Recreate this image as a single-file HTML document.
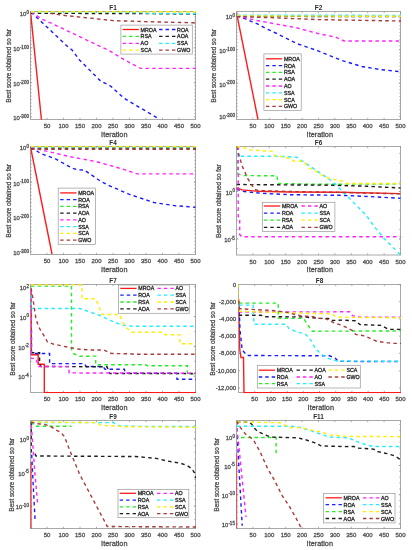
<!DOCTYPE html>
<html><head><meta charset="utf-8"><style>
html,body{margin:0;padding:0;background:#fff;width:412px;height:550px;overflow:hidden}
svg{display:block;will-change:transform}
text{font-family:"Liberation Sans",sans-serif}
</style></head><body>
<svg width="412" height="550" viewBox="0 0 412 550">
<clipPath id="cF1"><rect x="30.5" y="10.5" width="166.0" height="109.8"/></clipPath>
<rect x="30.5" y="11.5" width="165.0" height="108.0" fill="none" stroke="#a8a8a8" stroke-width="1.0"/>
<path d="M47.00,119.5v-1.7M47.00,11.5v1.7" stroke="#8c8c8c" stroke-width="0.7"/>
<text x="47.0" y="126.0" font-size="6.0" text-anchor="middle" font-weight="normal" fill="#505050" stroke="#505050" stroke-width="0.3" dominant-baseline="central">50</text>
<path d="M63.50,119.5v-1.7M63.50,11.5v1.7" stroke="#8c8c8c" stroke-width="0.7"/>
<text x="63.5" y="126.0" font-size="6.0" text-anchor="middle" font-weight="normal" fill="#505050" stroke="#505050" stroke-width="0.3" dominant-baseline="central">100</text>
<path d="M80.00,119.5v-1.7M80.00,11.5v1.7" stroke="#8c8c8c" stroke-width="0.7"/>
<text x="80.0" y="126.0" font-size="6.0" text-anchor="middle" font-weight="normal" fill="#505050" stroke="#505050" stroke-width="0.3" dominant-baseline="central">150</text>
<path d="M96.50,119.5v-1.7M96.50,11.5v1.7" stroke="#8c8c8c" stroke-width="0.7"/>
<text x="96.5" y="126.0" font-size="6.0" text-anchor="middle" font-weight="normal" fill="#505050" stroke="#505050" stroke-width="0.3" dominant-baseline="central">200</text>
<path d="M113.00,119.5v-1.7M113.00,11.5v1.7" stroke="#8c8c8c" stroke-width="0.7"/>
<text x="113.0" y="126.0" font-size="6.0" text-anchor="middle" font-weight="normal" fill="#505050" stroke="#505050" stroke-width="0.3" dominant-baseline="central">250</text>
<path d="M129.50,119.5v-1.7M129.50,11.5v1.7" stroke="#8c8c8c" stroke-width="0.7"/>
<text x="129.5" y="126.0" font-size="6.0" text-anchor="middle" font-weight="normal" fill="#505050" stroke="#505050" stroke-width="0.3" dominant-baseline="central">300</text>
<path d="M146.00,119.5v-1.7M146.00,11.5v1.7" stroke="#8c8c8c" stroke-width="0.7"/>
<text x="146.0" y="126.0" font-size="6.0" text-anchor="middle" font-weight="normal" fill="#505050" stroke="#505050" stroke-width="0.3" dominant-baseline="central">350</text>
<path d="M162.50,119.5v-1.7M162.50,11.5v1.7" stroke="#8c8c8c" stroke-width="0.7"/>
<text x="162.5" y="126.0" font-size="6.0" text-anchor="middle" font-weight="normal" fill="#505050" stroke="#505050" stroke-width="0.3" dominant-baseline="central">400</text>
<path d="M179.00,119.5v-1.7M179.00,11.5v1.7" stroke="#8c8c8c" stroke-width="0.7"/>
<text x="179.0" y="126.0" font-size="6.0" text-anchor="middle" font-weight="normal" fill="#505050" stroke="#505050" stroke-width="0.3" dominant-baseline="central">450</text>
<path d="M195.50,119.5v-1.7M195.50,11.5v1.7" stroke="#8c8c8c" stroke-width="0.7"/>
<text x="195.5" y="126.0" font-size="6.0" text-anchor="middle" font-weight="normal" fill="#505050" stroke="#505050" stroke-width="0.3" dominant-baseline="central">500</text>
<text x="113.0" y="7.0" font-size="6.4" text-anchor="middle" font-weight="bold" fill="#2a2a2a" stroke="#2a2a2a" stroke-width="0" dominant-baseline="central">F1</text>
<text x="114.3" y="134.1" font-size="7.3" text-anchor="middle" font-weight="normal" fill="#505050" stroke="#505050" stroke-width="0.3" dominant-baseline="central">Iteration</text>
<text x="0" y="0" font-size="6.3" text-anchor="middle" fill="#505050" stroke="#505050" stroke-width="0.3" dominant-baseline="central" transform="translate(8.6,65.8) rotate(-90)">Best score obtained so far</text>
<path d="M30.5,13.3h1.7M195.5,13.3h-1.7" stroke="#8c8c8c" stroke-width="0.7"/>
<text x="26.2" y="14.4" font-size="5.9" text-anchor="end" font-weight="normal" fill="#505050" stroke="#505050" stroke-width="0.3" dominant-baseline="central">10</text>
<text x="28.9" y="12.5" font-size="4.5" text-anchor="end" font-weight="normal" fill="#505050" stroke="#505050" stroke-width="0.3" dominant-baseline="central">0</text>
<path d="M30.5,47.8h1.7M195.5,47.8h-1.7" stroke="#8c8c8c" stroke-width="0.7"/>
<text x="19.7" y="48.9" font-size="5.9" text-anchor="end" font-weight="normal" fill="#505050" stroke="#505050" stroke-width="0.3" dominant-baseline="central">10</text>
<text x="28.9" y="47.0" font-size="4.5" text-anchor="end" font-weight="normal" fill="#505050" stroke="#505050" stroke-width="0.3" dominant-baseline="central">-100</text>
<path d="M30.5,82.8h1.7M195.5,82.8h-1.7" stroke="#8c8c8c" stroke-width="0.7"/>
<text x="19.7" y="83.9" font-size="5.9" text-anchor="end" font-weight="normal" fill="#505050" stroke="#505050" stroke-width="0.3" dominant-baseline="central">10</text>
<text x="28.9" y="82.0" font-size="4.5" text-anchor="end" font-weight="normal" fill="#505050" stroke="#505050" stroke-width="0.3" dominant-baseline="central">-200</text>
<path d="M30.5,116.8h1.7M195.5,116.8h-1.7" stroke="#8c8c8c" stroke-width="0.7"/>
<text x="19.7" y="117.9" font-size="5.9" text-anchor="end" font-weight="normal" fill="#505050" stroke="#505050" stroke-width="0.3" dominant-baseline="central">10</text>
<text x="28.9" y="116.0" font-size="4.5" text-anchor="end" font-weight="normal" fill="#505050" stroke="#505050" stroke-width="0.3" dominant-baseline="central">-300</text>
<path d="M30.5,16.75h1.2M195.5,16.75h-1.2" stroke="#8c8c8c" stroke-width="0.7"/>
<path d="M30.5,20.20h1.2M195.5,20.20h-1.2" stroke="#8c8c8c" stroke-width="0.7"/>
<path d="M30.5,23.65h1.2M195.5,23.65h-1.2" stroke="#8c8c8c" stroke-width="0.7"/>
<path d="M30.5,27.10h1.2M195.5,27.10h-1.2" stroke="#8c8c8c" stroke-width="0.7"/>
<path d="M30.5,30.55h1.2M195.5,30.55h-1.2" stroke="#8c8c8c" stroke-width="0.7"/>
<path d="M30.5,34.00h1.2M195.5,34.00h-1.2" stroke="#8c8c8c" stroke-width="0.7"/>
<path d="M30.5,37.45h1.2M195.5,37.45h-1.2" stroke="#8c8c8c" stroke-width="0.7"/>
<path d="M30.5,40.90h1.2M195.5,40.90h-1.2" stroke="#8c8c8c" stroke-width="0.7"/>
<path d="M30.5,44.35h1.2M195.5,44.35h-1.2" stroke="#8c8c8c" stroke-width="0.7"/>
<path d="M30.5,47.80h1.2M195.5,47.80h-1.2" stroke="#8c8c8c" stroke-width="0.7"/>
<path d="M30.5,51.25h1.2M195.5,51.25h-1.2" stroke="#8c8c8c" stroke-width="0.7"/>
<path d="M30.5,54.70h1.2M195.5,54.70h-1.2" stroke="#8c8c8c" stroke-width="0.7"/>
<path d="M30.5,58.15h1.2M195.5,58.15h-1.2" stroke="#8c8c8c" stroke-width="0.7"/>
<path d="M30.5,61.60h1.2M195.5,61.60h-1.2" stroke="#8c8c8c" stroke-width="0.7"/>
<path d="M30.5,65.05h1.2M195.5,65.05h-1.2" stroke="#8c8c8c" stroke-width="0.7"/>
<path d="M30.5,68.50h1.2M195.5,68.50h-1.2" stroke="#8c8c8c" stroke-width="0.7"/>
<path d="M30.5,71.95h1.2M195.5,71.95h-1.2" stroke="#8c8c8c" stroke-width="0.7"/>
<path d="M30.5,75.40h1.2M195.5,75.40h-1.2" stroke="#8c8c8c" stroke-width="0.7"/>
<path d="M30.5,78.85h1.2M195.5,78.85h-1.2" stroke="#8c8c8c" stroke-width="0.7"/>
<path d="M30.5,82.30h1.2M195.5,82.30h-1.2" stroke="#8c8c8c" stroke-width="0.7"/>
<path d="M30.5,85.75h1.2M195.5,85.75h-1.2" stroke="#8c8c8c" stroke-width="0.7"/>
<path d="M30.5,89.20h1.2M195.5,89.20h-1.2" stroke="#8c8c8c" stroke-width="0.7"/>
<path d="M30.5,92.65h1.2M195.5,92.65h-1.2" stroke="#8c8c8c" stroke-width="0.7"/>
<path d="M30.5,96.10h1.2M195.5,96.10h-1.2" stroke="#8c8c8c" stroke-width="0.7"/>
<path d="M30.5,99.55h1.2M195.5,99.55h-1.2" stroke="#8c8c8c" stroke-width="0.7"/>
<path d="M30.5,103.00h1.2M195.5,103.00h-1.2" stroke="#8c8c8c" stroke-width="0.7"/>
<path d="M30.5,106.45h1.2M195.5,106.45h-1.2" stroke="#8c8c8c" stroke-width="0.7"/>
<path d="M30.5,109.90h1.2M195.5,109.90h-1.2" stroke="#8c8c8c" stroke-width="0.7"/>
<path d="M30.5,113.35h1.2M195.5,113.35h-1.2" stroke="#8c8c8c" stroke-width="0.7"/>
<g clip-path="url(#cF1)">
<path d="M30.5,11.5 L41.4,119.5" fill="none" stroke="#ff1a1a" stroke-width="1.4"/>
<path d="M31.0,12.0 L67.0,46.0 L72.3,50.3 L79.5,60.0 L100.2,80.6 L111.0,86.4 L123.7,98.0 L134.2,104.3 L157.5,118.0 L159.0,119.5" fill="none" stroke="#1a1aff" stroke-width="1.4" stroke-dasharray="3.5 3.25"/>
<path d="M31.0,11.6 L196.0,11.6" fill="none" stroke="#22ee22" stroke-width="1.4" stroke-dasharray="3.5 3.25"/>
<path d="M31.0,13.3 L150.0,13.6 L196.0,14.2" fill="none" stroke="#1c1c1c" stroke-width="1.4" stroke-dasharray="3.5 3.25"/>
<path d="M31.0,12.0 L41.7,19.0 L53.7,24.3 L110.5,51.3 L124.7,60.0 L140.6,68.4 L196.0,68.4" fill="none" stroke="#ff22ff" stroke-width="1.4" stroke-dasharray="3.5 3.25"/>
<path d="M31.0,12.0 L140.0,12.5 L150.0,13.5 L196.0,13.8" fill="none" stroke="#22eeff" stroke-width="1.4" stroke-dasharray="3.5 3.25"/>
<path d="M31.0,11.8 L196.0,11.8" fill="none" stroke="#ffee00" stroke-width="1.4" stroke-dasharray="3.5 3.25"/>
<path d="M50.0,13.4 L65.0,15.5 L113.0,20.6 L150.0,21.8 L196.0,22.8" fill="none" stroke="#a83a3a" stroke-width="1.4" stroke-dasharray="3.5 3.25"/>
</g>
<rect x="120.9" y="25.1" width="71.4" height="29.0" fill="#fff" stroke="#999" stroke-width="0.7"/>
<path d="M122.6,29.5h16.3" stroke="#ff1a1a" stroke-width="1.3"/>
<text x="140.6" y="29.5" font-size="5.3" text-anchor="start" font-weight="normal" fill="#2a2a2a" stroke="#2a2a2a" stroke-width="0.3" dominant-baseline="central">MROA</text>
<path d="M159.1,29.5h16.3" stroke="#1a1aff" stroke-width="1.3" stroke-dasharray="3.4 3.05"/>
<text x="177.1" y="29.5" font-size="5.3" text-anchor="start" font-weight="normal" fill="#2a2a2a" stroke="#2a2a2a" stroke-width="0.3" dominant-baseline="central">ROA</text>
<path d="M122.6,36.3h16.3" stroke="#22ee22" stroke-width="1.3" stroke-dasharray="3.4 3.05"/>
<text x="140.6" y="36.3" font-size="5.3" text-anchor="start" font-weight="normal" fill="#2a2a2a" stroke="#2a2a2a" stroke-width="0.3" dominant-baseline="central">RSA</text>
<path d="M159.1,36.3h16.3" stroke="#1c1c1c" stroke-width="1.3" stroke-dasharray="3.4 3.05"/>
<text x="177.1" y="36.3" font-size="5.3" text-anchor="start" font-weight="normal" fill="#2a2a2a" stroke="#2a2a2a" stroke-width="0.3" dominant-baseline="central">AOA</text>
<path d="M122.6,43.3h16.3" stroke="#ff22ff" stroke-width="1.3" stroke-dasharray="3.4 3.05"/>
<text x="140.6" y="43.3" font-size="5.3" text-anchor="start" font-weight="normal" fill="#2a2a2a" stroke="#2a2a2a" stroke-width="0.3" dominant-baseline="central">AO</text>
<path d="M159.1,43.3h16.3" stroke="#22eeff" stroke-width="1.3" stroke-dasharray="3.4 3.05"/>
<text x="177.1" y="43.3" font-size="5.3" text-anchor="start" font-weight="normal" fill="#2a2a2a" stroke="#2a2a2a" stroke-width="0.3" dominant-baseline="central">SSA</text>
<path d="M122.6,50.2h16.3" stroke="#ffee00" stroke-width="1.3" stroke-dasharray="3.4 3.05"/>
<text x="140.6" y="50.2" font-size="5.3" text-anchor="start" font-weight="normal" fill="#2a2a2a" stroke="#2a2a2a" stroke-width="0.3" dominant-baseline="central">SCA</text>
<path d="M159.1,50.2h16.3" stroke="#a83a3a" stroke-width="1.3" stroke-dasharray="3.4 3.05"/>
<text x="177.1" y="50.2" font-size="5.3" text-anchor="start" font-weight="normal" fill="#2a2a2a" stroke="#2a2a2a" stroke-width="0.3" dominant-baseline="central">GWO</text>
<clipPath id="cF2"><rect x="236.5" y="10.5" width="165.0" height="109.8"/></clipPath>
<rect x="236.5" y="11.5" width="164.0" height="108.0" fill="none" stroke="#a8a8a8" stroke-width="1.0"/>
<path d="M252.90,119.5v-1.7M252.90,11.5v1.7" stroke="#8c8c8c" stroke-width="0.7"/>
<text x="252.9" y="126.0" font-size="6.0" text-anchor="middle" font-weight="normal" fill="#505050" stroke="#505050" stroke-width="0.3" dominant-baseline="central">50</text>
<path d="M269.30,119.5v-1.7M269.30,11.5v1.7" stroke="#8c8c8c" stroke-width="0.7"/>
<text x="269.3" y="126.0" font-size="6.0" text-anchor="middle" font-weight="normal" fill="#505050" stroke="#505050" stroke-width="0.3" dominant-baseline="central">100</text>
<path d="M285.70,119.5v-1.7M285.70,11.5v1.7" stroke="#8c8c8c" stroke-width="0.7"/>
<text x="285.7" y="126.0" font-size="6.0" text-anchor="middle" font-weight="normal" fill="#505050" stroke="#505050" stroke-width="0.3" dominant-baseline="central">150</text>
<path d="M302.10,119.5v-1.7M302.10,11.5v1.7" stroke="#8c8c8c" stroke-width="0.7"/>
<text x="302.1" y="126.0" font-size="6.0" text-anchor="middle" font-weight="normal" fill="#505050" stroke="#505050" stroke-width="0.3" dominant-baseline="central">200</text>
<path d="M318.50,119.5v-1.7M318.50,11.5v1.7" stroke="#8c8c8c" stroke-width="0.7"/>
<text x="318.5" y="126.0" font-size="6.0" text-anchor="middle" font-weight="normal" fill="#505050" stroke="#505050" stroke-width="0.3" dominant-baseline="central">250</text>
<path d="M334.90,119.5v-1.7M334.90,11.5v1.7" stroke="#8c8c8c" stroke-width="0.7"/>
<text x="334.9" y="126.0" font-size="6.0" text-anchor="middle" font-weight="normal" fill="#505050" stroke="#505050" stroke-width="0.3" dominant-baseline="central">300</text>
<path d="M351.30,119.5v-1.7M351.30,11.5v1.7" stroke="#8c8c8c" stroke-width="0.7"/>
<text x="351.3" y="126.0" font-size="6.0" text-anchor="middle" font-weight="normal" fill="#505050" stroke="#505050" stroke-width="0.3" dominant-baseline="central">350</text>
<path d="M367.70,119.5v-1.7M367.70,11.5v1.7" stroke="#8c8c8c" stroke-width="0.7"/>
<text x="367.7" y="126.0" font-size="6.0" text-anchor="middle" font-weight="normal" fill="#505050" stroke="#505050" stroke-width="0.3" dominant-baseline="central">400</text>
<path d="M384.10,119.5v-1.7M384.10,11.5v1.7" stroke="#8c8c8c" stroke-width="0.7"/>
<text x="384.1" y="126.0" font-size="6.0" text-anchor="middle" font-weight="normal" fill="#505050" stroke="#505050" stroke-width="0.3" dominant-baseline="central">450</text>
<path d="M400.50,119.5v-1.7M400.50,11.5v1.7" stroke="#8c8c8c" stroke-width="0.7"/>
<text x="400.5" y="126.0" font-size="6.0" text-anchor="middle" font-weight="normal" fill="#505050" stroke="#505050" stroke-width="0.3" dominant-baseline="central">500</text>
<text x="318.5" y="7.0" font-size="6.4" text-anchor="middle" font-weight="bold" fill="#2a2a2a" stroke="#2a2a2a" stroke-width="0" dominant-baseline="central">F2</text>
<text x="319.8" y="134.1" font-size="7.3" text-anchor="middle" font-weight="normal" fill="#505050" stroke="#505050" stroke-width="0.3" dominant-baseline="central">Iteration</text>
<text x="0" y="0" font-size="6.3" text-anchor="middle" fill="#505050" stroke="#505050" stroke-width="0.3" dominant-baseline="central" transform="translate(213.1,65.8) rotate(-90)">Best score obtained so far</text>
<path d="M236.5,16.1h1.7M400.5,16.1h-1.7" stroke="#8c8c8c" stroke-width="0.7"/>
<text x="232.2" y="17.2" font-size="5.9" text-anchor="end" font-weight="normal" fill="#505050" stroke="#505050" stroke-width="0.3" dominant-baseline="central">10</text>
<text x="234.9" y="15.3" font-size="4.5" text-anchor="end" font-weight="normal" fill="#505050" stroke="#505050" stroke-width="0.3" dominant-baseline="central">0</text>
<path d="M236.5,49.8h1.7M400.5,49.8h-1.7" stroke="#8c8c8c" stroke-width="0.7"/>
<text x="225.7" y="50.9" font-size="5.9" text-anchor="end" font-weight="normal" fill="#505050" stroke="#505050" stroke-width="0.3" dominant-baseline="central">10</text>
<text x="234.9" y="49.0" font-size="4.5" text-anchor="end" font-weight="normal" fill="#505050" stroke="#505050" stroke-width="0.3" dominant-baseline="central">-100</text>
<path d="M236.5,83.4h1.7M400.5,83.4h-1.7" stroke="#8c8c8c" stroke-width="0.7"/>
<text x="225.7" y="84.5" font-size="5.9" text-anchor="end" font-weight="normal" fill="#505050" stroke="#505050" stroke-width="0.3" dominant-baseline="central">10</text>
<text x="234.9" y="82.6" font-size="4.5" text-anchor="end" font-weight="normal" fill="#505050" stroke="#505050" stroke-width="0.3" dominant-baseline="central">-200</text>
<path d="M236.5,116.3h1.7M400.5,116.3h-1.7" stroke="#8c8c8c" stroke-width="0.7"/>
<text x="225.7" y="117.4" font-size="5.9" text-anchor="end" font-weight="normal" fill="#505050" stroke="#505050" stroke-width="0.3" dominant-baseline="central">10</text>
<text x="234.9" y="115.5" font-size="4.5" text-anchor="end" font-weight="normal" fill="#505050" stroke="#505050" stroke-width="0.3" dominant-baseline="central">-300</text>
<path d="M236.5,19.00h1.2M400.5,19.00h-1.2" stroke="#8c8c8c" stroke-width="0.7"/>
<path d="M236.5,22.37h1.2M400.5,22.37h-1.2" stroke="#8c8c8c" stroke-width="0.7"/>
<path d="M236.5,25.74h1.2M400.5,25.74h-1.2" stroke="#8c8c8c" stroke-width="0.7"/>
<path d="M236.5,29.11h1.2M400.5,29.11h-1.2" stroke="#8c8c8c" stroke-width="0.7"/>
<path d="M236.5,32.48h1.2M400.5,32.48h-1.2" stroke="#8c8c8c" stroke-width="0.7"/>
<path d="M236.5,35.85h1.2M400.5,35.85h-1.2" stroke="#8c8c8c" stroke-width="0.7"/>
<path d="M236.5,39.22h1.2M400.5,39.22h-1.2" stroke="#8c8c8c" stroke-width="0.7"/>
<path d="M236.5,42.59h1.2M400.5,42.59h-1.2" stroke="#8c8c8c" stroke-width="0.7"/>
<path d="M236.5,45.96h1.2M400.5,45.96h-1.2" stroke="#8c8c8c" stroke-width="0.7"/>
<path d="M236.5,49.33h1.2M400.5,49.33h-1.2" stroke="#8c8c8c" stroke-width="0.7"/>
<path d="M236.5,52.70h1.2M400.5,52.70h-1.2" stroke="#8c8c8c" stroke-width="0.7"/>
<path d="M236.5,56.07h1.2M400.5,56.07h-1.2" stroke="#8c8c8c" stroke-width="0.7"/>
<path d="M236.5,59.44h1.2M400.5,59.44h-1.2" stroke="#8c8c8c" stroke-width="0.7"/>
<path d="M236.5,62.81h1.2M400.5,62.81h-1.2" stroke="#8c8c8c" stroke-width="0.7"/>
<path d="M236.5,66.18h1.2M400.5,66.18h-1.2" stroke="#8c8c8c" stroke-width="0.7"/>
<path d="M236.5,69.55h1.2M400.5,69.55h-1.2" stroke="#8c8c8c" stroke-width="0.7"/>
<path d="M236.5,72.92h1.2M400.5,72.92h-1.2" stroke="#8c8c8c" stroke-width="0.7"/>
<path d="M236.5,76.29h1.2M400.5,76.29h-1.2" stroke="#8c8c8c" stroke-width="0.7"/>
<path d="M236.5,79.66h1.2M400.5,79.66h-1.2" stroke="#8c8c8c" stroke-width="0.7"/>
<path d="M236.5,83.03h1.2M400.5,83.03h-1.2" stroke="#8c8c8c" stroke-width="0.7"/>
<path d="M236.5,86.40h1.2M400.5,86.40h-1.2" stroke="#8c8c8c" stroke-width="0.7"/>
<path d="M236.5,89.77h1.2M400.5,89.77h-1.2" stroke="#8c8c8c" stroke-width="0.7"/>
<path d="M236.5,93.14h1.2M400.5,93.14h-1.2" stroke="#8c8c8c" stroke-width="0.7"/>
<path d="M236.5,96.51h1.2M400.5,96.51h-1.2" stroke="#8c8c8c" stroke-width="0.7"/>
<path d="M236.5,99.88h1.2M400.5,99.88h-1.2" stroke="#8c8c8c" stroke-width="0.7"/>
<path d="M236.5,103.25h1.2M400.5,103.25h-1.2" stroke="#8c8c8c" stroke-width="0.7"/>
<path d="M236.5,106.62h1.2M400.5,106.62h-1.2" stroke="#8c8c8c" stroke-width="0.7"/>
<path d="M236.5,109.99h1.2M400.5,109.99h-1.2" stroke="#8c8c8c" stroke-width="0.7"/>
<path d="M236.5,113.36h1.2M400.5,113.36h-1.2" stroke="#8c8c8c" stroke-width="0.7"/>
<g clip-path="url(#cF2)">
<path d="M236.4,12.2 L258.0,119.5" fill="none" stroke="#ff1a1a" stroke-width="1.4"/>
<path d="M236.8,15.8 L240.1,17.2 L246.2,19.2 L252.4,21.8 L258.5,24.3 L264.6,27.9 L275.8,33.0 L296.6,43.5 L318.0,50.8 L341.0,60.2 L361.8,66.5 L380.6,69.6 L401.0,71.7" fill="none" stroke="#1a1aff" stroke-width="1.4" stroke-dasharray="3.5 3.25"/>
<path d="M236.8,15.9 L401.0,16.2" fill="none" stroke="#22ee22" stroke-width="1.4" stroke-dasharray="3.5 3.25"/>
<path d="M236.8,16.3 L401.0,16.6" fill="none" stroke="#1c1c1c" stroke-width="1.4" stroke-dasharray="3.5 3.25"/>
<path d="M236.8,15.8 L257.0,20.5 L296.6,27.8 L318.0,33.5 L335.7,37.2 L344.1,41.0 L401.0,41.0" fill="none" stroke="#ff22ff" stroke-width="1.4" stroke-dasharray="3.5 3.25"/>
<path d="M236.8,15.1 L401.0,15.4" fill="none" stroke="#22eeff" stroke-width="1.4" stroke-dasharray="3.5 3.25"/>
<path d="M236.8,16.0 L401.0,16.3" fill="none" stroke="#ffee00" stroke-width="1.4" stroke-dasharray="3.5 3.25"/>
<path d="M236.8,16.6 L275.8,17.8 L318.0,19.6 L401.0,21.0" fill="none" stroke="#a83a3a" stroke-width="1.4" stroke-dasharray="3.5 3.25"/>
</g>
<rect x="263.9" y="53.9" width="37.3" height="56.6" fill="#fff" stroke="#999" stroke-width="0.7"/>
<path d="M265.9,58.8h16.3" stroke="#ff1a1a" stroke-width="1.3"/>
<text x="283.9" y="58.8" font-size="5.3" text-anchor="start" font-weight="normal" fill="#2a2a2a" stroke="#2a2a2a" stroke-width="0.3" dominant-baseline="central">MROA</text>
<path d="M265.9,65.6h16.3" stroke="#1a1aff" stroke-width="1.3" stroke-dasharray="3.4 3.05"/>
<text x="283.9" y="65.6" font-size="5.3" text-anchor="start" font-weight="normal" fill="#2a2a2a" stroke="#2a2a2a" stroke-width="0.3" dominant-baseline="central">ROA</text>
<path d="M265.9,72.4h16.3" stroke="#22ee22" stroke-width="1.3" stroke-dasharray="3.4 3.05"/>
<text x="283.9" y="72.4" font-size="5.3" text-anchor="start" font-weight="normal" fill="#2a2a2a" stroke="#2a2a2a" stroke-width="0.3" dominant-baseline="central">RSA</text>
<path d="M265.9,79.2h16.3" stroke="#1c1c1c" stroke-width="1.3" stroke-dasharray="3.4 3.05"/>
<text x="283.9" y="79.2" font-size="5.3" text-anchor="start" font-weight="normal" fill="#2a2a2a" stroke="#2a2a2a" stroke-width="0.3" dominant-baseline="central">AOA</text>
<path d="M265.9,86.0h16.3" stroke="#ff22ff" stroke-width="1.3" stroke-dasharray="3.4 3.05"/>
<text x="283.9" y="86.0" font-size="5.3" text-anchor="start" font-weight="normal" fill="#2a2a2a" stroke="#2a2a2a" stroke-width="0.3" dominant-baseline="central">AO</text>
<path d="M265.9,92.8h16.3" stroke="#22eeff" stroke-width="1.3" stroke-dasharray="3.4 3.05"/>
<text x="283.9" y="92.8" font-size="5.3" text-anchor="start" font-weight="normal" fill="#2a2a2a" stroke="#2a2a2a" stroke-width="0.3" dominant-baseline="central">SSA</text>
<path d="M265.9,99.6h16.3" stroke="#ffee00" stroke-width="1.3" stroke-dasharray="3.4 3.05"/>
<text x="283.9" y="99.6" font-size="5.3" text-anchor="start" font-weight="normal" fill="#2a2a2a" stroke="#2a2a2a" stroke-width="0.3" dominant-baseline="central">SCA</text>
<path d="M265.9,106.4h16.3" stroke="#a83a3a" stroke-width="1.3" stroke-dasharray="3.4 3.05"/>
<text x="283.9" y="106.4" font-size="5.3" text-anchor="start" font-weight="normal" fill="#2a2a2a" stroke="#2a2a2a" stroke-width="0.3" dominant-baseline="central">GWO</text>
<clipPath id="cF4"><rect x="30.5" y="145.5" width="166.0" height="109.8"/></clipPath>
<rect x="30.5" y="146.5" width="165.0" height="108.0" fill="none" stroke="#a8a8a8" stroke-width="1.0"/>
<path d="M47.00,254.5v-1.7M47.00,146.5v1.7" stroke="#8c8c8c" stroke-width="0.7"/>
<text x="47.0" y="261.0" font-size="6.0" text-anchor="middle" font-weight="normal" fill="#505050" stroke="#505050" stroke-width="0.3" dominant-baseline="central">50</text>
<path d="M63.50,254.5v-1.7M63.50,146.5v1.7" stroke="#8c8c8c" stroke-width="0.7"/>
<text x="63.5" y="261.0" font-size="6.0" text-anchor="middle" font-weight="normal" fill="#505050" stroke="#505050" stroke-width="0.3" dominant-baseline="central">100</text>
<path d="M80.00,254.5v-1.7M80.00,146.5v1.7" stroke="#8c8c8c" stroke-width="0.7"/>
<text x="80.0" y="261.0" font-size="6.0" text-anchor="middle" font-weight="normal" fill="#505050" stroke="#505050" stroke-width="0.3" dominant-baseline="central">150</text>
<path d="M96.50,254.5v-1.7M96.50,146.5v1.7" stroke="#8c8c8c" stroke-width="0.7"/>
<text x="96.5" y="261.0" font-size="6.0" text-anchor="middle" font-weight="normal" fill="#505050" stroke="#505050" stroke-width="0.3" dominant-baseline="central">200</text>
<path d="M113.00,254.5v-1.7M113.00,146.5v1.7" stroke="#8c8c8c" stroke-width="0.7"/>
<text x="113.0" y="261.0" font-size="6.0" text-anchor="middle" font-weight="normal" fill="#505050" stroke="#505050" stroke-width="0.3" dominant-baseline="central">250</text>
<path d="M129.50,254.5v-1.7M129.50,146.5v1.7" stroke="#8c8c8c" stroke-width="0.7"/>
<text x="129.5" y="261.0" font-size="6.0" text-anchor="middle" font-weight="normal" fill="#505050" stroke="#505050" stroke-width="0.3" dominant-baseline="central">300</text>
<path d="M146.00,254.5v-1.7M146.00,146.5v1.7" stroke="#8c8c8c" stroke-width="0.7"/>
<text x="146.0" y="261.0" font-size="6.0" text-anchor="middle" font-weight="normal" fill="#505050" stroke="#505050" stroke-width="0.3" dominant-baseline="central">350</text>
<path d="M162.50,254.5v-1.7M162.50,146.5v1.7" stroke="#8c8c8c" stroke-width="0.7"/>
<text x="162.5" y="261.0" font-size="6.0" text-anchor="middle" font-weight="normal" fill="#505050" stroke="#505050" stroke-width="0.3" dominant-baseline="central">400</text>
<path d="M179.00,254.5v-1.7M179.00,146.5v1.7" stroke="#8c8c8c" stroke-width="0.7"/>
<text x="179.0" y="261.0" font-size="6.0" text-anchor="middle" font-weight="normal" fill="#505050" stroke="#505050" stroke-width="0.3" dominant-baseline="central">450</text>
<path d="M195.50,254.5v-1.7M195.50,146.5v1.7" stroke="#8c8c8c" stroke-width="0.7"/>
<text x="195.5" y="261.0" font-size="6.0" text-anchor="middle" font-weight="normal" fill="#505050" stroke="#505050" stroke-width="0.3" dominant-baseline="central">500</text>
<text x="113.0" y="142.0" font-size="6.4" text-anchor="middle" font-weight="bold" fill="#2a2a2a" stroke="#2a2a2a" stroke-width="0" dominant-baseline="central">F4</text>
<text x="114.3" y="269.1" font-size="7.3" text-anchor="middle" font-weight="normal" fill="#505050" stroke="#505050" stroke-width="0.3" dominant-baseline="central">Iteration</text>
<text x="0" y="0" font-size="6.3" text-anchor="middle" fill="#505050" stroke="#505050" stroke-width="0.3" dominant-baseline="central" transform="translate(8.4,200.8) rotate(-90)">Best score obtained so far</text>
<path d="M30.5,147.1h1.7M195.5,147.1h-1.7" stroke="#8c8c8c" stroke-width="0.7"/>
<text x="26.2" y="148.2" font-size="5.9" text-anchor="end" font-weight="normal" fill="#505050" stroke="#505050" stroke-width="0.3" dominant-baseline="central">10</text>
<text x="28.9" y="146.3" font-size="4.5" text-anchor="end" font-weight="normal" fill="#505050" stroke="#505050" stroke-width="0.3" dominant-baseline="central">0</text>
<path d="M30.5,182.4h1.7M195.5,182.4h-1.7" stroke="#8c8c8c" stroke-width="0.7"/>
<text x="19.7" y="183.5" font-size="5.9" text-anchor="end" font-weight="normal" fill="#505050" stroke="#505050" stroke-width="0.3" dominant-baseline="central">10</text>
<text x="28.9" y="181.6" font-size="4.5" text-anchor="end" font-weight="normal" fill="#505050" stroke="#505050" stroke-width="0.3" dominant-baseline="central">-100</text>
<path d="M30.5,217.0h1.7M195.5,217.0h-1.7" stroke="#8c8c8c" stroke-width="0.7"/>
<text x="19.7" y="218.1" font-size="5.9" text-anchor="end" font-weight="normal" fill="#505050" stroke="#505050" stroke-width="0.3" dominant-baseline="central">10</text>
<text x="28.9" y="216.2" font-size="4.5" text-anchor="end" font-weight="normal" fill="#505050" stroke="#505050" stroke-width="0.3" dominant-baseline="central">-200</text>
<path d="M30.5,251.8h1.7M195.5,251.8h-1.7" stroke="#8c8c8c" stroke-width="0.7"/>
<text x="19.7" y="252.9" font-size="5.9" text-anchor="end" font-weight="normal" fill="#505050" stroke="#505050" stroke-width="0.3" dominant-baseline="central">10</text>
<text x="28.9" y="251.0" font-size="4.5" text-anchor="end" font-weight="normal" fill="#505050" stroke="#505050" stroke-width="0.3" dominant-baseline="central">-300</text>
<path d="M30.5,149.80h1.2M195.5,149.80h-1.2" stroke="#8c8c8c" stroke-width="0.7"/>
<path d="M30.5,153.32h1.2M195.5,153.32h-1.2" stroke="#8c8c8c" stroke-width="0.7"/>
<path d="M30.5,156.84h1.2M195.5,156.84h-1.2" stroke="#8c8c8c" stroke-width="0.7"/>
<path d="M30.5,160.36h1.2M195.5,160.36h-1.2" stroke="#8c8c8c" stroke-width="0.7"/>
<path d="M30.5,163.88h1.2M195.5,163.88h-1.2" stroke="#8c8c8c" stroke-width="0.7"/>
<path d="M30.5,167.40h1.2M195.5,167.40h-1.2" stroke="#8c8c8c" stroke-width="0.7"/>
<path d="M30.5,170.92h1.2M195.5,170.92h-1.2" stroke="#8c8c8c" stroke-width="0.7"/>
<path d="M30.5,174.44h1.2M195.5,174.44h-1.2" stroke="#8c8c8c" stroke-width="0.7"/>
<path d="M30.5,177.96h1.2M195.5,177.96h-1.2" stroke="#8c8c8c" stroke-width="0.7"/>
<path d="M30.5,181.48h1.2M195.5,181.48h-1.2" stroke="#8c8c8c" stroke-width="0.7"/>
<path d="M30.5,185.00h1.2M195.5,185.00h-1.2" stroke="#8c8c8c" stroke-width="0.7"/>
<path d="M30.5,188.52h1.2M195.5,188.52h-1.2" stroke="#8c8c8c" stroke-width="0.7"/>
<path d="M30.5,192.04h1.2M195.5,192.04h-1.2" stroke="#8c8c8c" stroke-width="0.7"/>
<path d="M30.5,195.56h1.2M195.5,195.56h-1.2" stroke="#8c8c8c" stroke-width="0.7"/>
<path d="M30.5,199.08h1.2M195.5,199.08h-1.2" stroke="#8c8c8c" stroke-width="0.7"/>
<path d="M30.5,202.60h1.2M195.5,202.60h-1.2" stroke="#8c8c8c" stroke-width="0.7"/>
<path d="M30.5,206.12h1.2M195.5,206.12h-1.2" stroke="#8c8c8c" stroke-width="0.7"/>
<path d="M30.5,209.64h1.2M195.5,209.64h-1.2" stroke="#8c8c8c" stroke-width="0.7"/>
<path d="M30.5,213.16h1.2M195.5,213.16h-1.2" stroke="#8c8c8c" stroke-width="0.7"/>
<path d="M30.5,216.68h1.2M195.5,216.68h-1.2" stroke="#8c8c8c" stroke-width="0.7"/>
<path d="M30.5,220.20h1.2M195.5,220.20h-1.2" stroke="#8c8c8c" stroke-width="0.7"/>
<path d="M30.5,223.72h1.2M195.5,223.72h-1.2" stroke="#8c8c8c" stroke-width="0.7"/>
<path d="M30.5,227.24h1.2M195.5,227.24h-1.2" stroke="#8c8c8c" stroke-width="0.7"/>
<path d="M30.5,230.76h1.2M195.5,230.76h-1.2" stroke="#8c8c8c" stroke-width="0.7"/>
<path d="M30.5,234.28h1.2M195.5,234.28h-1.2" stroke="#8c8c8c" stroke-width="0.7"/>
<path d="M30.5,237.80h1.2M195.5,237.80h-1.2" stroke="#8c8c8c" stroke-width="0.7"/>
<path d="M30.5,241.32h1.2M195.5,241.32h-1.2" stroke="#8c8c8c" stroke-width="0.7"/>
<path d="M30.5,244.84h1.2M195.5,244.84h-1.2" stroke="#8c8c8c" stroke-width="0.7"/>
<path d="M30.5,248.36h1.2M195.5,248.36h-1.2" stroke="#8c8c8c" stroke-width="0.7"/>
<g clip-path="url(#cF4)">
<path d="M30.5,147.0 L52.0,254.0" fill="none" stroke="#ff1a1a" stroke-width="1.4"/>
<path d="M31.0,147.0 L40.5,153.4 L55.1,158.7 L71.8,168.0 L77.0,169.7 L84.4,170.1 L90.6,174.3 L101.0,181.6 L112.0,186.8 L128.7,194.1 L153.8,202.5 L174.6,205.6 L195.5,207.3" fill="none" stroke="#1a1aff" stroke-width="1.4" stroke-dasharray="3.5 3.25"/>
<path d="M31.0,147.0 L196.0,147.0" fill="none" stroke="#22ee22" stroke-width="1.4" stroke-dasharray="3.5 3.25"/>
<path d="M31.0,148.1 L196.0,148.1" fill="none" stroke="#1c1c1c" stroke-width="1.4" stroke-dasharray="3.5 3.25"/>
<path d="M31.0,147.0 L42.6,150.3 L69.8,156.6 L96.9,161.8 L112.0,166.0 L124.5,169.7 L137.0,173.9 L196.0,173.9" fill="none" stroke="#ff22ff" stroke-width="1.4" stroke-dasharray="3.5 3.25"/>
<path d="M31.0,146.9 L196.0,146.9" fill="none" stroke="#22eeff" stroke-width="1.4" stroke-dasharray="3.5 3.25"/>
<path d="M31.0,146.5 L196.0,146.5" fill="none" stroke="#ffee00" stroke-width="1.4" stroke-dasharray="3.5 3.25"/>
<path d="M31.0,149.2 L196.0,149.2" fill="none" stroke="#a83a3a" stroke-width="1.4" stroke-dasharray="3.5 3.25"/>
</g>
<rect x="58.2" y="188.1" width="37.3" height="56.4" fill="#fff" stroke="#999" stroke-width="0.7"/>
<path d="M60.2,192.9h16.3" stroke="#ff1a1a" stroke-width="1.3"/>
<text x="78.2" y="192.9" font-size="5.3" text-anchor="start" font-weight="normal" fill="#2a2a2a" stroke="#2a2a2a" stroke-width="0.3" dominant-baseline="central">MROA</text>
<path d="M60.2,199.7h16.3" stroke="#1a1aff" stroke-width="1.3" stroke-dasharray="3.4 3.05"/>
<text x="78.2" y="199.7" font-size="5.3" text-anchor="start" font-weight="normal" fill="#2a2a2a" stroke="#2a2a2a" stroke-width="0.3" dominant-baseline="central">ROA</text>
<path d="M60.2,206.4h16.3" stroke="#22ee22" stroke-width="1.3" stroke-dasharray="3.4 3.05"/>
<text x="78.2" y="206.4" font-size="5.3" text-anchor="start" font-weight="normal" fill="#2a2a2a" stroke="#2a2a2a" stroke-width="0.3" dominant-baseline="central">RSA</text>
<path d="M60.2,213.1h16.3" stroke="#1c1c1c" stroke-width="1.3" stroke-dasharray="3.4 3.05"/>
<text x="78.2" y="213.1" font-size="5.3" text-anchor="start" font-weight="normal" fill="#2a2a2a" stroke="#2a2a2a" stroke-width="0.3" dominant-baseline="central">AOA</text>
<path d="M60.2,219.9h16.3" stroke="#ff22ff" stroke-width="1.3" stroke-dasharray="3.4 3.05"/>
<text x="78.2" y="219.9" font-size="5.3" text-anchor="start" font-weight="normal" fill="#2a2a2a" stroke="#2a2a2a" stroke-width="0.3" dominant-baseline="central">AO</text>
<path d="M60.2,226.6h16.3" stroke="#22eeff" stroke-width="1.3" stroke-dasharray="3.4 3.05"/>
<text x="78.2" y="226.6" font-size="5.3" text-anchor="start" font-weight="normal" fill="#2a2a2a" stroke="#2a2a2a" stroke-width="0.3" dominant-baseline="central">SSA</text>
<path d="M60.2,233.4h16.3" stroke="#ffee00" stroke-width="1.3" stroke-dasharray="3.4 3.05"/>
<text x="78.2" y="233.4" font-size="5.3" text-anchor="start" font-weight="normal" fill="#2a2a2a" stroke="#2a2a2a" stroke-width="0.3" dominant-baseline="central">SCA</text>
<path d="M60.2,240.1h16.3" stroke="#a83a3a" stroke-width="1.3" stroke-dasharray="3.4 3.05"/>
<text x="78.2" y="240.1" font-size="5.3" text-anchor="start" font-weight="normal" fill="#2a2a2a" stroke="#2a2a2a" stroke-width="0.3" dominant-baseline="central">GWO</text>
<clipPath id="cF6"><rect x="236.5" y="145.5" width="165.0" height="110.3"/></clipPath>
<rect x="236.5" y="146.5" width="164.0" height="108.5" fill="none" stroke="#a8a8a8" stroke-width="1.0"/>
<path d="M252.90,255v-1.7M252.90,146.5v1.7" stroke="#8c8c8c" stroke-width="0.7"/>
<text x="252.9" y="261.5" font-size="6.0" text-anchor="middle" font-weight="normal" fill="#505050" stroke="#505050" stroke-width="0.3" dominant-baseline="central">50</text>
<path d="M269.30,255v-1.7M269.30,146.5v1.7" stroke="#8c8c8c" stroke-width="0.7"/>
<text x="269.3" y="261.5" font-size="6.0" text-anchor="middle" font-weight="normal" fill="#505050" stroke="#505050" stroke-width="0.3" dominant-baseline="central">100</text>
<path d="M285.70,255v-1.7M285.70,146.5v1.7" stroke="#8c8c8c" stroke-width="0.7"/>
<text x="285.7" y="261.5" font-size="6.0" text-anchor="middle" font-weight="normal" fill="#505050" stroke="#505050" stroke-width="0.3" dominant-baseline="central">150</text>
<path d="M302.10,255v-1.7M302.10,146.5v1.7" stroke="#8c8c8c" stroke-width="0.7"/>
<text x="302.1" y="261.5" font-size="6.0" text-anchor="middle" font-weight="normal" fill="#505050" stroke="#505050" stroke-width="0.3" dominant-baseline="central">200</text>
<path d="M318.50,255v-1.7M318.50,146.5v1.7" stroke="#8c8c8c" stroke-width="0.7"/>
<text x="318.5" y="261.5" font-size="6.0" text-anchor="middle" font-weight="normal" fill="#505050" stroke="#505050" stroke-width="0.3" dominant-baseline="central">250</text>
<path d="M334.90,255v-1.7M334.90,146.5v1.7" stroke="#8c8c8c" stroke-width="0.7"/>
<text x="334.9" y="261.5" font-size="6.0" text-anchor="middle" font-weight="normal" fill="#505050" stroke="#505050" stroke-width="0.3" dominant-baseline="central">300</text>
<path d="M351.30,255v-1.7M351.30,146.5v1.7" stroke="#8c8c8c" stroke-width="0.7"/>
<text x="351.3" y="261.5" font-size="6.0" text-anchor="middle" font-weight="normal" fill="#505050" stroke="#505050" stroke-width="0.3" dominant-baseline="central">350</text>
<path d="M367.70,255v-1.7M367.70,146.5v1.7" stroke="#8c8c8c" stroke-width="0.7"/>
<text x="367.7" y="261.5" font-size="6.0" text-anchor="middle" font-weight="normal" fill="#505050" stroke="#505050" stroke-width="0.3" dominant-baseline="central">400</text>
<path d="M384.10,255v-1.7M384.10,146.5v1.7" stroke="#8c8c8c" stroke-width="0.7"/>
<text x="384.1" y="261.5" font-size="6.0" text-anchor="middle" font-weight="normal" fill="#505050" stroke="#505050" stroke-width="0.3" dominant-baseline="central">450</text>
<path d="M400.50,255v-1.7M400.50,146.5v1.7" stroke="#8c8c8c" stroke-width="0.7"/>
<text x="400.5" y="261.5" font-size="6.0" text-anchor="middle" font-weight="normal" fill="#505050" stroke="#505050" stroke-width="0.3" dominant-baseline="central">500</text>
<text x="318.5" y="142.0" font-size="6.4" text-anchor="middle" font-weight="bold" fill="#2a2a2a" stroke="#2a2a2a" stroke-width="0" dominant-baseline="central">F6</text>
<text x="319.8" y="269.6" font-size="7.3" text-anchor="middle" font-weight="normal" fill="#505050" stroke="#505050" stroke-width="0.3" dominant-baseline="central">Iteration</text>
<text x="0" y="0" font-size="6.3" text-anchor="middle" fill="#505050" stroke="#505050" stroke-width="0.3" dominant-baseline="central" transform="translate(218.3,201.1) rotate(-90)">Best score obtained so far</text>
<path d="M236.5,191.5h1.7M400.5,191.5h-1.7" stroke="#8c8c8c" stroke-width="0.7"/>
<text x="232.2" y="192.6" font-size="5.9" text-anchor="end" font-weight="normal" fill="#505050" stroke="#505050" stroke-width="0.3" dominant-baseline="central">10</text>
<text x="234.9" y="190.7" font-size="4.5" text-anchor="end" font-weight="normal" fill="#505050" stroke="#505050" stroke-width="0.3" dominant-baseline="central">0</text>
<path d="M236.5,239.0h1.7M400.5,239.0h-1.7" stroke="#8c8c8c" stroke-width="0.7"/>
<text x="230.7" y="240.1" font-size="5.9" text-anchor="end" font-weight="normal" fill="#505050" stroke="#505050" stroke-width="0.3" dominant-baseline="central">10</text>
<text x="234.9" y="238.2" font-size="4.5" text-anchor="end" font-weight="normal" fill="#505050" stroke="#505050" stroke-width="0.3" dominant-baseline="central">-5</text>
<path d="M236.5,153.50h1.2M400.5,153.50h-1.2" stroke="#8c8c8c" stroke-width="0.7"/>
<path d="M236.5,163.00h1.2M400.5,163.00h-1.2" stroke="#8c8c8c" stroke-width="0.7"/>
<path d="M236.5,172.50h1.2M400.5,172.50h-1.2" stroke="#8c8c8c" stroke-width="0.7"/>
<path d="M236.5,182.00h1.2M400.5,182.00h-1.2" stroke="#8c8c8c" stroke-width="0.7"/>
<path d="M236.5,191.50h1.2M400.5,191.50h-1.2" stroke="#8c8c8c" stroke-width="0.7"/>
<path d="M236.5,201.00h1.2M400.5,201.00h-1.2" stroke="#8c8c8c" stroke-width="0.7"/>
<path d="M236.5,210.50h1.2M400.5,210.50h-1.2" stroke="#8c8c8c" stroke-width="0.7"/>
<path d="M236.5,220.00h1.2M400.5,220.00h-1.2" stroke="#8c8c8c" stroke-width="0.7"/>
<path d="M236.5,229.50h1.2M400.5,229.50h-1.2" stroke="#8c8c8c" stroke-width="0.7"/>
<path d="M236.5,239.00h1.2M400.5,239.00h-1.2" stroke="#8c8c8c" stroke-width="0.7"/>
<path d="M236.5,248.50h1.2M400.5,248.50h-1.2" stroke="#8c8c8c" stroke-width="0.7"/>
<g clip-path="url(#cF6)">
<path d="M236.5,187.9 L242.2,189.9 L258.5,191.3 L290.0,192.0 L340.0,192.2 L400.5,193.6" fill="none" stroke="#ff1a1a" stroke-width="1.4"/>
<path d="M236.5,189.2 L242.2,191.3 L261.2,193.3 L290.0,194.7 L340.0,195.3 L370.0,196.6 L400.5,198.3" fill="none" stroke="#1a1aff" stroke-width="1.4" stroke-dasharray="3.5 3.25"/>
<path d="M237.4,160.0 L237.4,173.6 L243.5,175.6 L276.8,175.8 L278.2,183.5 L320.0,184.3 L400.5,183.9" fill="none" stroke="#22ee22" stroke-width="1.4" stroke-dasharray="3.5 3.25"/>
<path d="M236.5,184.5 L330.0,185.2 L366.0,186.2 L400.5,188.0" fill="none" stroke="#1c1c1c" stroke-width="1.4" stroke-dasharray="3.5 3.25"/>
<path d="M238.2,146.5 L238.2,216.6 L239.7,217.9 L239.7,234.4 L241.6,236.8 L400.5,236.8" fill="none" stroke="#ff22ff" stroke-width="1.4" stroke-dasharray="3.5 3.25"/>
<path d="M236.8,146.5 L236.8,156.2 L273.4,156.2 L286.0,156.6 L296.9,157.3 L307.7,164.7 L320.0,172.9 L333.6,182.4 L339.0,188.0 L348.0,196.9 L356.9,205.9 L365.9,214.9 L374.9,227.4 L383.9,238.2 L392.8,247.2 L400.5,255.0" fill="none" stroke="#22eeff" stroke-width="1.4" stroke-dasharray="3.5 3.25"/>
<path d="M236.5,146.8 L243.5,147.1 L247.6,149.8 L273.4,151.4 L274.5,155.9 L283.0,156.6 L291.4,159.3 L294.2,161.3 L303.7,161.3 L309.1,168.1 L317.3,172.2 L322.7,175.6 L330.9,179.0 L342.0,181.0 L346.5,183.5 L400.5,183.5" fill="none" stroke="#ffee00" stroke-width="1.4" stroke-dasharray="3.5 3.25"/>
<path d="M236.5,146.5 L242.2,166.1 L247.6,178.3 L254.4,189.2 L258.5,190.6 L290.0,191.5 L340.0,192.4 L400.5,193.9" fill="none" stroke="#a83a3a" stroke-width="1.4" stroke-dasharray="3.5 3.25"/>
</g>
<rect x="262.3" y="202.3" width="72.6" height="29.2" fill="#fff" stroke="#999" stroke-width="0.7"/>
<path d="M263.9,206.0h16.3" stroke="#ff1a1a" stroke-width="1.3"/>
<text x="281.9" y="206.0" font-size="5.3" text-anchor="start" font-weight="normal" fill="#2a2a2a" stroke="#2a2a2a" stroke-width="0.3" dominant-baseline="central">MROA</text>
<path d="M263.9,213.1h16.3" stroke="#1a1aff" stroke-width="1.3" stroke-dasharray="3.4 3.05"/>
<text x="281.9" y="213.1" font-size="5.3" text-anchor="start" font-weight="normal" fill="#2a2a2a" stroke="#2a2a2a" stroke-width="0.3" dominant-baseline="central">ROA</text>
<path d="M263.9,220.2h16.3" stroke="#22ee22" stroke-width="1.3" stroke-dasharray="3.4 3.05"/>
<text x="281.9" y="220.2" font-size="5.3" text-anchor="start" font-weight="normal" fill="#2a2a2a" stroke="#2a2a2a" stroke-width="0.3" dominant-baseline="central">RSA</text>
<path d="M263.9,227.3h16.3" stroke="#1c1c1c" stroke-width="1.3" stroke-dasharray="3.4 3.05"/>
<text x="281.9" y="227.3" font-size="5.3" text-anchor="start" font-weight="normal" fill="#2a2a2a" stroke="#2a2a2a" stroke-width="0.3" dominant-baseline="central">AOA</text>
<path d="M301.5,206.0h16.3" stroke="#ff22ff" stroke-width="1.3" stroke-dasharray="3.4 3.05"/>
<text x="319.5" y="206.0" font-size="5.3" text-anchor="start" font-weight="normal" fill="#2a2a2a" stroke="#2a2a2a" stroke-width="0.3" dominant-baseline="central">AO</text>
<path d="M301.5,213.1h16.3" stroke="#22eeff" stroke-width="1.3" stroke-dasharray="3.4 3.05"/>
<text x="319.5" y="213.1" font-size="5.3" text-anchor="start" font-weight="normal" fill="#2a2a2a" stroke="#2a2a2a" stroke-width="0.3" dominant-baseline="central">SSA</text>
<path d="M301.5,220.2h16.3" stroke="#ffee00" stroke-width="1.3" stroke-dasharray="3.4 3.05"/>
<text x="319.5" y="220.2" font-size="5.3" text-anchor="start" font-weight="normal" fill="#2a2a2a" stroke="#2a2a2a" stroke-width="0.3" dominant-baseline="central">SCA</text>
<path d="M301.5,227.3h16.3" stroke="#a83a3a" stroke-width="1.3" stroke-dasharray="3.4 3.05"/>
<text x="319.5" y="227.3" font-size="5.3" text-anchor="start" font-weight="normal" fill="#2a2a2a" stroke="#2a2a2a" stroke-width="0.3" dominant-baseline="central">GWO</text>
<clipPath id="cF7"><rect x="30.5" y="283.5" width="166.0" height="109.8"/></clipPath>
<rect x="30.5" y="284.5" width="165.0" height="108.0" fill="none" stroke="#a8a8a8" stroke-width="1.0"/>
<path d="M47.00,392.5v-1.7M47.00,284.5v1.7" stroke="#8c8c8c" stroke-width="0.7"/>
<text x="47.0" y="399.0" font-size="6.0" text-anchor="middle" font-weight="normal" fill="#505050" stroke="#505050" stroke-width="0.3" dominant-baseline="central">50</text>
<path d="M63.50,392.5v-1.7M63.50,284.5v1.7" stroke="#8c8c8c" stroke-width="0.7"/>
<text x="63.5" y="399.0" font-size="6.0" text-anchor="middle" font-weight="normal" fill="#505050" stroke="#505050" stroke-width="0.3" dominant-baseline="central">100</text>
<path d="M80.00,392.5v-1.7M80.00,284.5v1.7" stroke="#8c8c8c" stroke-width="0.7"/>
<text x="80.0" y="399.0" font-size="6.0" text-anchor="middle" font-weight="normal" fill="#505050" stroke="#505050" stroke-width="0.3" dominant-baseline="central">150</text>
<path d="M96.50,392.5v-1.7M96.50,284.5v1.7" stroke="#8c8c8c" stroke-width="0.7"/>
<text x="96.5" y="399.0" font-size="6.0" text-anchor="middle" font-weight="normal" fill="#505050" stroke="#505050" stroke-width="0.3" dominant-baseline="central">200</text>
<path d="M113.00,392.5v-1.7M113.00,284.5v1.7" stroke="#8c8c8c" stroke-width="0.7"/>
<text x="113.0" y="399.0" font-size="6.0" text-anchor="middle" font-weight="normal" fill="#505050" stroke="#505050" stroke-width="0.3" dominant-baseline="central">250</text>
<path d="M129.50,392.5v-1.7M129.50,284.5v1.7" stroke="#8c8c8c" stroke-width="0.7"/>
<text x="129.5" y="399.0" font-size="6.0" text-anchor="middle" font-weight="normal" fill="#505050" stroke="#505050" stroke-width="0.3" dominant-baseline="central">300</text>
<path d="M146.00,392.5v-1.7M146.00,284.5v1.7" stroke="#8c8c8c" stroke-width="0.7"/>
<text x="146.0" y="399.0" font-size="6.0" text-anchor="middle" font-weight="normal" fill="#505050" stroke="#505050" stroke-width="0.3" dominant-baseline="central">350</text>
<path d="M162.50,392.5v-1.7M162.50,284.5v1.7" stroke="#8c8c8c" stroke-width="0.7"/>
<text x="162.5" y="399.0" font-size="6.0" text-anchor="middle" font-weight="normal" fill="#505050" stroke="#505050" stroke-width="0.3" dominant-baseline="central">400</text>
<path d="M179.00,392.5v-1.7M179.00,284.5v1.7" stroke="#8c8c8c" stroke-width="0.7"/>
<text x="179.0" y="399.0" font-size="6.0" text-anchor="middle" font-weight="normal" fill="#505050" stroke="#505050" stroke-width="0.3" dominant-baseline="central">450</text>
<path d="M195.50,392.5v-1.7M195.50,284.5v1.7" stroke="#8c8c8c" stroke-width="0.7"/>
<text x="195.5" y="399.0" font-size="6.0" text-anchor="middle" font-weight="normal" fill="#505050" stroke="#505050" stroke-width="0.3" dominant-baseline="central">500</text>
<text x="113.0" y="280.0" font-size="6.4" text-anchor="middle" font-weight="bold" fill="#2a2a2a" stroke="#2a2a2a" stroke-width="0" dominant-baseline="central">F7</text>
<text x="114.3" y="407.1" font-size="7.3" text-anchor="middle" font-weight="normal" fill="#505050" stroke="#505050" stroke-width="0.3" dominant-baseline="central">Iteration</text>
<text x="0" y="0" font-size="6.3" text-anchor="middle" fill="#505050" stroke="#505050" stroke-width="0.3" dominant-baseline="central" transform="translate(12.2,338.8) rotate(-90)">Best score obtained so far</text>
<path d="M30.5,286.8h1.7M195.5,286.8h-1.7" stroke="#8c8c8c" stroke-width="0.7"/>
<text x="26.2" y="287.9" font-size="5.9" text-anchor="end" font-weight="normal" fill="#505050" stroke="#505050" stroke-width="0.3" dominant-baseline="central">10</text>
<text x="28.9" y="286.0" font-size="4.5" text-anchor="end" font-weight="normal" fill="#505050" stroke="#505050" stroke-width="0.3" dominant-baseline="central">2</text>
<path d="M30.5,316.6h1.7M195.5,316.6h-1.7" stroke="#8c8c8c" stroke-width="0.7"/>
<text x="26.2" y="317.7" font-size="5.9" text-anchor="end" font-weight="normal" fill="#505050" stroke="#505050" stroke-width="0.3" dominant-baseline="central">10</text>
<text x="28.9" y="315.8" font-size="4.5" text-anchor="end" font-weight="normal" fill="#505050" stroke="#505050" stroke-width="0.3" dominant-baseline="central">0</text>
<path d="M30.5,346.4h1.7M195.5,346.4h-1.7" stroke="#8c8c8c" stroke-width="0.7"/>
<text x="24.7" y="347.5" font-size="5.9" text-anchor="end" font-weight="normal" fill="#505050" stroke="#505050" stroke-width="0.3" dominant-baseline="central">10</text>
<text x="28.9" y="345.6" font-size="4.5" text-anchor="end" font-weight="normal" fill="#505050" stroke="#505050" stroke-width="0.3" dominant-baseline="central">-2</text>
<path d="M30.5,376.2h1.7M195.5,376.2h-1.7" stroke="#8c8c8c" stroke-width="0.7"/>
<text x="24.7" y="377.3" font-size="5.9" text-anchor="end" font-weight="normal" fill="#505050" stroke="#505050" stroke-width="0.3" dominant-baseline="central">10</text>
<text x="28.9" y="375.4" font-size="4.5" text-anchor="end" font-weight="normal" fill="#505050" stroke="#505050" stroke-width="0.3" dominant-baseline="central">-4</text>
<path d="M30.5,301.70h1.2M195.5,301.70h-1.2" stroke="#8c8c8c" stroke-width="0.7"/>
<path d="M30.5,316.60h1.2M195.5,316.60h-1.2" stroke="#8c8c8c" stroke-width="0.7"/>
<path d="M30.5,331.50h1.2M195.5,331.50h-1.2" stroke="#8c8c8c" stroke-width="0.7"/>
<path d="M30.5,346.40h1.2M195.5,346.40h-1.2" stroke="#8c8c8c" stroke-width="0.7"/>
<path d="M30.5,361.30h1.2M195.5,361.30h-1.2" stroke="#8c8c8c" stroke-width="0.7"/>
<path d="M30.5,376.20h1.2M195.5,376.20h-1.2" stroke="#8c8c8c" stroke-width="0.7"/>
<g clip-path="url(#cF7)">
<path d="M31.2,289.0 L31.4,354.7 L38.2,354.7 L38.2,364.2 L44.3,364.2 L44.3,392.6 L196.0,392.6" fill="none" stroke="#ff1a1a" stroke-width="1.4"/>
<path d="M31.5,330.0 L31.5,353.5 L49.6,353.5 L49.6,363.6 L84.5,363.6 L86.0,366.5 L103.0,366.5 L105.0,369.2 L124.3,369.2 L125.5,373.2 L176.5,373.2 L177.0,379.3 L196.0,379.3" fill="none" stroke="#1a1aff" stroke-width="1.4" stroke-dasharray="3.5 3.25"/>
<path d="M31.0,286.1 L71.5,286.1 L71.5,349.2 L73.7,353.6 L79.5,356.3 L95.7,356.1 L95.7,364.7 L145.4,364.7 L147.5,365.8 L187.3,365.8 L187.3,374.1 L196.0,374.1" fill="none" stroke="#22ee22" stroke-width="1.4" stroke-dasharray="3.5 3.25"/>
<path d="M31.0,352.7 L39.6,352.7 L39.6,364.2 L41.0,366.5 L107.0,366.8 L109.8,373.5 L196.0,373.5" fill="none" stroke="#1c1c1c" stroke-width="1.4" stroke-dasharray="3.5 3.25"/>
<path d="M31.3,290.0 L31.3,358.4 L35.6,358.4 L38.8,366.5 L69.0,366.5 L69.0,372.9 L196.0,373.2" fill="none" stroke="#ff22ff" stroke-width="1.4" stroke-dasharray="3.5 3.25"/>
<path d="M31.2,295.0 L31.2,308.5 L80.0,308.5 L99.9,315.5 L111.4,320.8 L121.8,325.0 L132.3,326.3 L196.0,326.3" fill="none" stroke="#22eeff" stroke-width="1.4" stroke-dasharray="3.5 3.25"/>
<path d="M31.0,284.9 L82.0,284.9 L82.0,298.8 L95.7,298.8 L102.0,314.5 L119.7,314.5 L123.9,325.0 L131.2,332.3 L163.2,332.3 L165.3,334.8 L179.9,334.8 L179.9,343.8 L196.0,343.8" fill="none" stroke="#ffee00" stroke-width="1.4" stroke-dasharray="3.5 3.25"/>
<path d="M31.0,288.0 L32.4,295.2 L34.8,311.2 L35.8,317.9 L38.0,325.2 L40.2,329.6 L43.8,335.4 L47.5,342.0 L53.3,344.1 L62.0,345.9 L70.8,347.8 L79.5,349.2 L90.0,350.0 L104.0,350.0 L111.4,353.5 L130.2,353.8 L134.4,354.3 L196.0,354.3" fill="none" stroke="#a83a3a" stroke-width="1.4" stroke-dasharray="3.5 3.25"/>
</g>
<rect x="118.6" y="285.0" width="70.7" height="28.3" fill="#fff" stroke="#999" stroke-width="0.7"/>
<path d="M120.3,288.4h16.3" stroke="#ff1a1a" stroke-width="1.3"/>
<text x="138.3" y="288.4" font-size="5.3" text-anchor="start" font-weight="normal" fill="#2a2a2a" stroke="#2a2a2a" stroke-width="0.3" dominant-baseline="central">MROA</text>
<path d="M120.3,295.2h16.3" stroke="#1a1aff" stroke-width="1.3" stroke-dasharray="3.4 3.05"/>
<text x="138.3" y="295.2" font-size="5.3" text-anchor="start" font-weight="normal" fill="#2a2a2a" stroke="#2a2a2a" stroke-width="0.3" dominant-baseline="central">ROA</text>
<path d="M120.3,302.0h16.3" stroke="#22ee22" stroke-width="1.3" stroke-dasharray="3.4 3.05"/>
<text x="138.3" y="302.0" font-size="5.3" text-anchor="start" font-weight="normal" fill="#2a2a2a" stroke="#2a2a2a" stroke-width="0.3" dominant-baseline="central">RSA</text>
<path d="M120.3,308.8h16.3" stroke="#1c1c1c" stroke-width="1.3" stroke-dasharray="3.4 3.05"/>
<text x="138.3" y="308.8" font-size="5.3" text-anchor="start" font-weight="normal" fill="#2a2a2a" stroke="#2a2a2a" stroke-width="0.3" dominant-baseline="central">AOA</text>
<path d="M157.5,288.4h16.3" stroke="#ff22ff" stroke-width="1.3" stroke-dasharray="3.4 3.05"/>
<text x="175.5" y="288.4" font-size="5.3" text-anchor="start" font-weight="normal" fill="#2a2a2a" stroke="#2a2a2a" stroke-width="0.3" dominant-baseline="central">AO</text>
<path d="M157.5,295.2h16.3" stroke="#22eeff" stroke-width="1.3" stroke-dasharray="3.4 3.05"/>
<text x="175.5" y="295.2" font-size="5.3" text-anchor="start" font-weight="normal" fill="#2a2a2a" stroke="#2a2a2a" stroke-width="0.3" dominant-baseline="central">SSA</text>
<path d="M157.5,302.0h16.3" stroke="#ffee00" stroke-width="1.3" stroke-dasharray="3.4 3.05"/>
<text x="175.5" y="302.0" font-size="5.3" text-anchor="start" font-weight="normal" fill="#2a2a2a" stroke="#2a2a2a" stroke-width="0.3" dominant-baseline="central">SCA</text>
<path d="M157.5,308.8h16.3" stroke="#a83a3a" stroke-width="1.3" stroke-dasharray="3.4 3.05"/>
<text x="175.5" y="308.8" font-size="5.3" text-anchor="start" font-weight="normal" fill="#2a2a2a" stroke="#2a2a2a" stroke-width="0.3" dominant-baseline="central">GWO</text>
<clipPath id="cF8"><rect x="238.5" y="283.5" width="163.0" height="109.8"/></clipPath>
<rect x="238.5" y="284.5" width="162.0" height="108.0" fill="none" stroke="#a8a8a8" stroke-width="1.0"/>
<path d="M254.70,392.5v-1.7M254.70,284.5v1.7" stroke="#8c8c8c" stroke-width="0.7"/>
<text x="254.7" y="399.0" font-size="6.0" text-anchor="middle" font-weight="normal" fill="#505050" stroke="#505050" stroke-width="0.3" dominant-baseline="central">50</text>
<path d="M270.90,392.5v-1.7M270.90,284.5v1.7" stroke="#8c8c8c" stroke-width="0.7"/>
<text x="270.9" y="399.0" font-size="6.0" text-anchor="middle" font-weight="normal" fill="#505050" stroke="#505050" stroke-width="0.3" dominant-baseline="central">100</text>
<path d="M287.10,392.5v-1.7M287.10,284.5v1.7" stroke="#8c8c8c" stroke-width="0.7"/>
<text x="287.1" y="399.0" font-size="6.0" text-anchor="middle" font-weight="normal" fill="#505050" stroke="#505050" stroke-width="0.3" dominant-baseline="central">150</text>
<path d="M303.30,392.5v-1.7M303.30,284.5v1.7" stroke="#8c8c8c" stroke-width="0.7"/>
<text x="303.3" y="399.0" font-size="6.0" text-anchor="middle" font-weight="normal" fill="#505050" stroke="#505050" stroke-width="0.3" dominant-baseline="central">200</text>
<path d="M319.50,392.5v-1.7M319.50,284.5v1.7" stroke="#8c8c8c" stroke-width="0.7"/>
<text x="319.5" y="399.0" font-size="6.0" text-anchor="middle" font-weight="normal" fill="#505050" stroke="#505050" stroke-width="0.3" dominant-baseline="central">250</text>
<path d="M335.70,392.5v-1.7M335.70,284.5v1.7" stroke="#8c8c8c" stroke-width="0.7"/>
<text x="335.7" y="399.0" font-size="6.0" text-anchor="middle" font-weight="normal" fill="#505050" stroke="#505050" stroke-width="0.3" dominant-baseline="central">300</text>
<path d="M351.90,392.5v-1.7M351.90,284.5v1.7" stroke="#8c8c8c" stroke-width="0.7"/>
<text x="351.9" y="399.0" font-size="6.0" text-anchor="middle" font-weight="normal" fill="#505050" stroke="#505050" stroke-width="0.3" dominant-baseline="central">350</text>
<path d="M368.10,392.5v-1.7M368.10,284.5v1.7" stroke="#8c8c8c" stroke-width="0.7"/>
<text x="368.1" y="399.0" font-size="6.0" text-anchor="middle" font-weight="normal" fill="#505050" stroke="#505050" stroke-width="0.3" dominant-baseline="central">400</text>
<path d="M384.30,392.5v-1.7M384.30,284.5v1.7" stroke="#8c8c8c" stroke-width="0.7"/>
<text x="384.3" y="399.0" font-size="6.0" text-anchor="middle" font-weight="normal" fill="#505050" stroke="#505050" stroke-width="0.3" dominant-baseline="central">450</text>
<path d="M400.50,392.5v-1.7M400.50,284.5v1.7" stroke="#8c8c8c" stroke-width="0.7"/>
<text x="400.5" y="399.0" font-size="6.0" text-anchor="middle" font-weight="normal" fill="#505050" stroke="#505050" stroke-width="0.3" dominant-baseline="central">500</text>
<text x="319.5" y="280.0" font-size="6.4" text-anchor="middle" font-weight="bold" fill="#2a2a2a" stroke="#2a2a2a" stroke-width="0" dominant-baseline="central">F8</text>
<text x="320.8" y="407.1" font-size="7.3" text-anchor="middle" font-weight="normal" fill="#505050" stroke="#505050" stroke-width="0.3" dominant-baseline="central">Iteration</text>
<text x="0" y="0" font-size="6.3" text-anchor="middle" fill="#505050" stroke="#505050" stroke-width="0.3" dominant-baseline="central" transform="translate(212.5,338.8) rotate(-90)">Best score obtained so far</text>
<path d="M238.5,284.5h1.7M400.5,284.5h-1.7" stroke="#8c8c8c" stroke-width="0.7"/>
<text x="236.1" y="284.5" font-size="6.0" text-anchor="end" font-weight="normal" fill="#505050" stroke="#505050" stroke-width="0.3" dominant-baseline="central">0</text>
<path d="M238.5,301.7h1.7M400.5,301.7h-1.7" stroke="#8c8c8c" stroke-width="0.7"/>
<text x="236.1" y="301.7" font-size="6.0" text-anchor="end" font-weight="normal" fill="#505050" stroke="#505050" stroke-width="0.3" dominant-baseline="central">-2,000</text>
<path d="M238.5,318.9h1.7M400.5,318.9h-1.7" stroke="#8c8c8c" stroke-width="0.7"/>
<text x="236.1" y="318.9" font-size="6.0" text-anchor="end" font-weight="normal" fill="#505050" stroke="#505050" stroke-width="0.3" dominant-baseline="central">-4,000</text>
<path d="M238.5,336.1h1.7M400.5,336.1h-1.7" stroke="#8c8c8c" stroke-width="0.7"/>
<text x="236.1" y="336.1" font-size="6.0" text-anchor="end" font-weight="normal" fill="#505050" stroke="#505050" stroke-width="0.3" dominant-baseline="central">-6,000</text>
<path d="M238.5,353.3h1.7M400.5,353.3h-1.7" stroke="#8c8c8c" stroke-width="0.7"/>
<text x="236.1" y="353.3" font-size="6.0" text-anchor="end" font-weight="normal" fill="#505050" stroke="#505050" stroke-width="0.3" dominant-baseline="central">-8,000</text>
<path d="M238.5,370.9h1.7M400.5,370.9h-1.7" stroke="#8c8c8c" stroke-width="0.7"/>
<text x="236.1" y="370.9" font-size="6.0" text-anchor="end" font-weight="normal" fill="#505050" stroke="#505050" stroke-width="0.3" dominant-baseline="central">-10,000</text>
<path d="M238.5,388.1h1.7M400.5,388.1h-1.7" stroke="#8c8c8c" stroke-width="0.7"/>
<text x="236.1" y="388.1" font-size="6.0" text-anchor="end" font-weight="normal" fill="#505050" stroke="#505050" stroke-width="0.3" dominant-baseline="central">-12,000</text>
<g clip-path="url(#cF8)">
<path d="M238.6,298.8 L239.8,350.0 L241.0,357.5 L243.5,357.5 L244.0,392.6 L401.0,392.6" fill="none" stroke="#ff1a1a" stroke-width="1.4"/>
<path d="M239.0,304.0 L240.0,330.0 L242.2,350.0 L247.2,355.5 L329.7,355.8 L335.5,358.4 L338.4,361.4 L401.0,361.5" fill="none" stroke="#1a1aff" stroke-width="1.4" stroke-dasharray="3.5 3.25"/>
<path d="M238.8,303.0 L239.4,303.1 L278.2,303.1 L278.2,318.1 L290.0,318.4 L303.5,318.4 L307.8,325.0 L312.2,331.2 L401.0,330.9" fill="none" stroke="#22ee22" stroke-width="1.4" stroke-dasharray="3.5 3.25"/>
<path d="M238.6,315.3 L261.2,315.3 L263.2,316.7 L303.5,316.9 L319.5,318.4 L328.2,318.4 L331.1,320.6 L342.0,320.1 L355.5,320.8 L360.0,324.6 L381.1,325.4 L388.7,329.4 L401.0,329.4" fill="none" stroke="#1c1c1c" stroke-width="1.4" stroke-dasharray="3.5 3.25"/>
<path d="M238.6,312.0 L349.5,311.8 L352.5,315.6 L360.0,317.1 L401.0,317.1" fill="none" stroke="#ff22ff" stroke-width="1.4" stroke-dasharray="3.5 3.25"/>
<path d="M239.0,305.1 L253.0,305.1 L254.0,324.2 L286.3,324.2 L288.9,328.6 L297.7,332.2 L304.9,333.7 L309.3,338.1 L312.2,342.4 L315.1,348.2 L321.0,354.1 L328.2,358.4 L337.0,361.0 L401.0,361.3" fill="none" stroke="#22eeff" stroke-width="1.4" stroke-dasharray="3.5 3.25"/>
<path d="M238.5,284.3 L238.5,311.3 L290.0,312.8 L332.6,314.0 L335.5,316.9 L346.0,317.3 L401.0,317.8" fill="none" stroke="#ffee00" stroke-width="1.4" stroke-dasharray="3.5 3.25"/>
<path d="M238.5,300.4 L239.5,308.5 L247.6,309.2 L274.8,310.6 L288.4,312.6 L290.4,313.3 L302.0,316.2 L310.8,316.2 L319.5,318.4 L326.8,319.1 L334.0,322.8 L342.0,325.4 L352.5,330.6 L355.5,334.4 L364.6,335.9 L376.6,341.2 L391.7,343.4 L401.0,343.4" fill="none" stroke="#a83a3a" stroke-width="1.4" stroke-dasharray="3.5 3.25"/>
</g>
<rect x="257.3" y="365.4" width="103.0" height="22.6" fill="#fff" stroke="#999" stroke-width="0.7"/>
<path d="M258.8,370.2h16.3" stroke="#ff1a1a" stroke-width="1.3"/>
<text x="276.8" y="370.2" font-size="5.3" text-anchor="start" font-weight="normal" fill="#2a2a2a" stroke="#2a2a2a" stroke-width="0.3" dominant-baseline="central">MROA</text>
<path d="M258.8,377.0h16.3" stroke="#1a1aff" stroke-width="1.3" stroke-dasharray="3.4 3.05"/>
<text x="276.8" y="377.0" font-size="5.3" text-anchor="start" font-weight="normal" fill="#2a2a2a" stroke="#2a2a2a" stroke-width="0.3" dominant-baseline="central">ROA</text>
<path d="M258.8,383.7h16.3" stroke="#22ee22" stroke-width="1.3" stroke-dasharray="3.4 3.05"/>
<text x="276.8" y="383.7" font-size="5.3" text-anchor="start" font-weight="normal" fill="#2a2a2a" stroke="#2a2a2a" stroke-width="0.3" dominant-baseline="central">RSA</text>
<path d="M296.5,370.2h16.3" stroke="#1c1c1c" stroke-width="1.3" stroke-dasharray="3.4 3.05"/>
<text x="314.5" y="370.2" font-size="5.3" text-anchor="start" font-weight="normal" fill="#2a2a2a" stroke="#2a2a2a" stroke-width="0.3" dominant-baseline="central">AOA</text>
<path d="M296.5,377.0h16.3" stroke="#ff22ff" stroke-width="1.3" stroke-dasharray="3.4 3.05"/>
<text x="314.5" y="377.0" font-size="5.3" text-anchor="start" font-weight="normal" fill="#2a2a2a" stroke="#2a2a2a" stroke-width="0.3" dominant-baseline="central">AO</text>
<path d="M296.5,383.7h16.3" stroke="#22eeff" stroke-width="1.3" stroke-dasharray="3.4 3.05"/>
<text x="314.5" y="383.7" font-size="5.3" text-anchor="start" font-weight="normal" fill="#2a2a2a" stroke="#2a2a2a" stroke-width="0.3" dominant-baseline="central">SSA</text>
<path d="M328.4,370.2h16.3" stroke="#ffee00" stroke-width="1.3" stroke-dasharray="3.4 3.05"/>
<text x="346.4" y="370.2" font-size="5.3" text-anchor="start" font-weight="normal" fill="#2a2a2a" stroke="#2a2a2a" stroke-width="0.3" dominant-baseline="central">SCA</text>
<path d="M328.4,377.0h16.3" stroke="#a83a3a" stroke-width="1.3" stroke-dasharray="3.4 3.05"/>
<text x="346.4" y="377.0" font-size="5.3" text-anchor="start" font-weight="normal" fill="#2a2a2a" stroke="#2a2a2a" stroke-width="0.3" dominant-baseline="central">GWO</text>
<clipPath id="cF9"><rect x="30.5" y="419.5" width="166.0" height="109.8"/></clipPath>
<rect x="30.5" y="420.5" width="165.0" height="108.0" fill="none" stroke="#a8a8a8" stroke-width="1.0"/>
<path d="M47.00,528.5v-1.7M47.00,420.5v1.7" stroke="#8c8c8c" stroke-width="0.7"/>
<text x="47.0" y="535.0" font-size="6.0" text-anchor="middle" font-weight="normal" fill="#505050" stroke="#505050" stroke-width="0.3" dominant-baseline="central">50</text>
<path d="M63.50,528.5v-1.7M63.50,420.5v1.7" stroke="#8c8c8c" stroke-width="0.7"/>
<text x="63.5" y="535.0" font-size="6.0" text-anchor="middle" font-weight="normal" fill="#505050" stroke="#505050" stroke-width="0.3" dominant-baseline="central">100</text>
<path d="M80.00,528.5v-1.7M80.00,420.5v1.7" stroke="#8c8c8c" stroke-width="0.7"/>
<text x="80.0" y="535.0" font-size="6.0" text-anchor="middle" font-weight="normal" fill="#505050" stroke="#505050" stroke-width="0.3" dominant-baseline="central">150</text>
<path d="M96.50,528.5v-1.7M96.50,420.5v1.7" stroke="#8c8c8c" stroke-width="0.7"/>
<text x="96.5" y="535.0" font-size="6.0" text-anchor="middle" font-weight="normal" fill="#505050" stroke="#505050" stroke-width="0.3" dominant-baseline="central">200</text>
<path d="M113.00,528.5v-1.7M113.00,420.5v1.7" stroke="#8c8c8c" stroke-width="0.7"/>
<text x="113.0" y="535.0" font-size="6.0" text-anchor="middle" font-weight="normal" fill="#505050" stroke="#505050" stroke-width="0.3" dominant-baseline="central">250</text>
<path d="M129.50,528.5v-1.7M129.50,420.5v1.7" stroke="#8c8c8c" stroke-width="0.7"/>
<text x="129.5" y="535.0" font-size="6.0" text-anchor="middle" font-weight="normal" fill="#505050" stroke="#505050" stroke-width="0.3" dominant-baseline="central">300</text>
<path d="M146.00,528.5v-1.7M146.00,420.5v1.7" stroke="#8c8c8c" stroke-width="0.7"/>
<text x="146.0" y="535.0" font-size="6.0" text-anchor="middle" font-weight="normal" fill="#505050" stroke="#505050" stroke-width="0.3" dominant-baseline="central">350</text>
<path d="M162.50,528.5v-1.7M162.50,420.5v1.7" stroke="#8c8c8c" stroke-width="0.7"/>
<text x="162.5" y="535.0" font-size="6.0" text-anchor="middle" font-weight="normal" fill="#505050" stroke="#505050" stroke-width="0.3" dominant-baseline="central">400</text>
<path d="M179.00,528.5v-1.7M179.00,420.5v1.7" stroke="#8c8c8c" stroke-width="0.7"/>
<text x="179.0" y="535.0" font-size="6.0" text-anchor="middle" font-weight="normal" fill="#505050" stroke="#505050" stroke-width="0.3" dominant-baseline="central">450</text>
<path d="M195.50,528.5v-1.7M195.50,420.5v1.7" stroke="#8c8c8c" stroke-width="0.7"/>
<text x="195.5" y="535.0" font-size="6.0" text-anchor="middle" font-weight="normal" fill="#505050" stroke="#505050" stroke-width="0.3" dominant-baseline="central">500</text>
<text x="113.0" y="416.0" font-size="6.4" text-anchor="middle" font-weight="bold" fill="#2a2a2a" stroke="#2a2a2a" stroke-width="0" dominant-baseline="central">F9</text>
<text x="114.3" y="543.1" font-size="7.3" text-anchor="middle" font-weight="normal" fill="#505050" stroke="#505050" stroke-width="0.3" dominant-baseline="central">Iteration</text>
<text x="0" y="0" font-size="6.3" text-anchor="middle" fill="#505050" stroke="#505050" stroke-width="0.3" dominant-baseline="central" transform="translate(11.1,474.8) rotate(-90)">Best score obtained so far</text>
<path d="M30.5,438.9h1.7M195.5,438.9h-1.7" stroke="#8c8c8c" stroke-width="0.7"/>
<text x="26.2" y="440.0" font-size="5.9" text-anchor="end" font-weight="normal" fill="#505050" stroke="#505050" stroke-width="0.3" dominant-baseline="central">10</text>
<text x="28.9" y="438.1" font-size="4.5" text-anchor="end" font-weight="normal" fill="#505050" stroke="#505050" stroke-width="0.3" dominant-baseline="central">0</text>
<path d="M30.5,472.5h1.7M195.5,472.5h-1.7" stroke="#8c8c8c" stroke-width="0.7"/>
<text x="24.7" y="473.6" font-size="5.9" text-anchor="end" font-weight="normal" fill="#505050" stroke="#505050" stroke-width="0.3" dominant-baseline="central">10</text>
<text x="28.9" y="471.7" font-size="4.5" text-anchor="end" font-weight="normal" fill="#505050" stroke="#505050" stroke-width="0.3" dominant-baseline="central">-5</text>
<path d="M30.5,506.1h1.7M195.5,506.1h-1.7" stroke="#8c8c8c" stroke-width="0.7"/>
<text x="22.2" y="507.2" font-size="5.9" text-anchor="end" font-weight="normal" fill="#505050" stroke="#505050" stroke-width="0.3" dominant-baseline="central">10</text>
<text x="28.9" y="505.3" font-size="4.5" text-anchor="end" font-weight="normal" fill="#505050" stroke="#505050" stroke-width="0.3" dominant-baseline="central">-10</text>
<path d="M30.5,425.46h1.2M195.5,425.46h-1.2" stroke="#8c8c8c" stroke-width="0.7"/>
<path d="M30.5,432.18h1.2M195.5,432.18h-1.2" stroke="#8c8c8c" stroke-width="0.7"/>
<path d="M30.5,438.90h1.2M195.5,438.90h-1.2" stroke="#8c8c8c" stroke-width="0.7"/>
<path d="M30.5,445.62h1.2M195.5,445.62h-1.2" stroke="#8c8c8c" stroke-width="0.7"/>
<path d="M30.5,452.34h1.2M195.5,452.34h-1.2" stroke="#8c8c8c" stroke-width="0.7"/>
<path d="M30.5,459.06h1.2M195.5,459.06h-1.2" stroke="#8c8c8c" stroke-width="0.7"/>
<path d="M30.5,465.78h1.2M195.5,465.78h-1.2" stroke="#8c8c8c" stroke-width="0.7"/>
<path d="M30.5,472.50h1.2M195.5,472.50h-1.2" stroke="#8c8c8c" stroke-width="0.7"/>
<path d="M30.5,479.22h1.2M195.5,479.22h-1.2" stroke="#8c8c8c" stroke-width="0.7"/>
<path d="M30.5,485.94h1.2M195.5,485.94h-1.2" stroke="#8c8c8c" stroke-width="0.7"/>
<path d="M30.5,492.66h1.2M195.5,492.66h-1.2" stroke="#8c8c8c" stroke-width="0.7"/>
<path d="M30.5,499.38h1.2M195.5,499.38h-1.2" stroke="#8c8c8c" stroke-width="0.7"/>
<path d="M30.5,506.10h1.2M195.5,506.10h-1.2" stroke="#8c8c8c" stroke-width="0.7"/>
<path d="M30.5,512.82h1.2M195.5,512.82h-1.2" stroke="#8c8c8c" stroke-width="0.7"/>
<path d="M30.5,519.54h1.2M195.5,519.54h-1.2" stroke="#8c8c8c" stroke-width="0.7"/>
<path d="M30.5,526.26h1.2M195.5,526.26h-1.2" stroke="#8c8c8c" stroke-width="0.7"/>
<g clip-path="url(#cF9)">
<path d="M30.9,462.2 L30.9,528.5" fill="none" stroke="#ff1a1a" stroke-width="1.4"/>
<path d="M31.7,454.7 L33.2,485.0 L35.0,519.0" fill="none" stroke="#1a1aff" stroke-width="1.4" stroke-dasharray="3.5 3.25"/>
<path d="M31.0,422.0 L34.8,426.2 L71.5,426.2" fill="none" stroke="#22ee22" stroke-width="1.4" stroke-dasharray="3.5 3.25"/>
<path d="M31.2,422.0 L31.2,451.4 L35.0,453.9 L36.0,456.0 L135.5,456.5 L156.2,458.4 L167.1,461.0 L181.1,463.4 L187.3,465.7 L192.0,468.8 L194.5,473.0 L195.5,478.0" fill="none" stroke="#1c1c1c" stroke-width="1.4" stroke-dasharray="3.5 3.25"/>
<path d="M31.3,425.0 L35.0,474.7 L37.8,505.0" fill="none" stroke="#ff22ff" stroke-width="1.4" stroke-dasharray="3.5 3.25"/>
<path d="M31.0,422.6 L113.5,422.6 L119.3,425.9 L140.0,426.4 L196.0,426.6" fill="none" stroke="#22eeff" stroke-width="1.4" stroke-dasharray="3.5 3.25"/>
<path d="M31.0,422.0 L96.0,422.6 L101.8,425.5 L116.4,425.9 L123.7,426.7 L196.0,427.3" fill="none" stroke="#ffee00" stroke-width="1.4" stroke-dasharray="3.5 3.25"/>
<path d="M31.0,422.0 L35.3,423.5 L45.0,424.5 L50.5,426.3 L55.9,430.0 L60.8,432.4 L64.4,436.6 L66.8,442.7 L68.8,448.0 L72.9,458.1 L79.7,474.4 L107.3,526.5 L196.0,527.0" fill="none" stroke="#a83a3a" stroke-width="1.4" stroke-dasharray="3.5 3.25"/>
</g>
<rect x="118.0" y="489.5" width="70.8" height="28.2" fill="#fff" stroke="#999" stroke-width="0.7"/>
<path d="M119.7,493.3h16.3" stroke="#ff1a1a" stroke-width="1.3"/>
<text x="137.7" y="493.3" font-size="5.3" text-anchor="start" font-weight="normal" fill="#2a2a2a" stroke="#2a2a2a" stroke-width="0.3" dominant-baseline="central">MROA</text>
<path d="M119.7,500.1h16.3" stroke="#1a1aff" stroke-width="1.3" stroke-dasharray="3.4 3.05"/>
<text x="137.7" y="500.1" font-size="5.3" text-anchor="start" font-weight="normal" fill="#2a2a2a" stroke="#2a2a2a" stroke-width="0.3" dominant-baseline="central">ROA</text>
<path d="M119.7,506.9h16.3" stroke="#22ee22" stroke-width="1.3" stroke-dasharray="3.4 3.05"/>
<text x="137.7" y="506.9" font-size="5.3" text-anchor="start" font-weight="normal" fill="#2a2a2a" stroke="#2a2a2a" stroke-width="0.3" dominant-baseline="central">RSA</text>
<path d="M119.7,513.7h16.3" stroke="#1c1c1c" stroke-width="1.3" stroke-dasharray="3.4 3.05"/>
<text x="137.7" y="513.7" font-size="5.3" text-anchor="start" font-weight="normal" fill="#2a2a2a" stroke="#2a2a2a" stroke-width="0.3" dominant-baseline="central">AOA</text>
<path d="M157.0,493.3h16.3" stroke="#ff22ff" stroke-width="1.3" stroke-dasharray="3.4 3.05"/>
<text x="175.0" y="493.3" font-size="5.3" text-anchor="start" font-weight="normal" fill="#2a2a2a" stroke="#2a2a2a" stroke-width="0.3" dominant-baseline="central">AO</text>
<path d="M157.0,500.1h16.3" stroke="#22eeff" stroke-width="1.3" stroke-dasharray="3.4 3.05"/>
<text x="175.0" y="500.1" font-size="5.3" text-anchor="start" font-weight="normal" fill="#2a2a2a" stroke="#2a2a2a" stroke-width="0.3" dominant-baseline="central">SSA</text>
<path d="M157.0,506.9h16.3" stroke="#ffee00" stroke-width="1.3" stroke-dasharray="3.4 3.05"/>
<text x="175.0" y="506.9" font-size="5.3" text-anchor="start" font-weight="normal" fill="#2a2a2a" stroke="#2a2a2a" stroke-width="0.3" dominant-baseline="central">SCA</text>
<path d="M157.0,513.7h16.3" stroke="#a83a3a" stroke-width="1.3" stroke-dasharray="3.4 3.05"/>
<text x="175.0" y="513.7" font-size="5.3" text-anchor="start" font-weight="normal" fill="#2a2a2a" stroke="#2a2a2a" stroke-width="0.3" dominant-baseline="central">GWO</text>
<clipPath id="cF11"><rect x="236.5" y="419.5" width="165.0" height="109.8"/></clipPath>
<rect x="236.5" y="420.5" width="164.0" height="108.0" fill="none" stroke="#a8a8a8" stroke-width="1.0"/>
<path d="M252.90,528.5v-1.7M252.90,420.5v1.7" stroke="#8c8c8c" stroke-width="0.7"/>
<text x="252.9" y="535.0" font-size="6.0" text-anchor="middle" font-weight="normal" fill="#505050" stroke="#505050" stroke-width="0.3" dominant-baseline="central">50</text>
<path d="M269.30,528.5v-1.7M269.30,420.5v1.7" stroke="#8c8c8c" stroke-width="0.7"/>
<text x="269.3" y="535.0" font-size="6.0" text-anchor="middle" font-weight="normal" fill="#505050" stroke="#505050" stroke-width="0.3" dominant-baseline="central">100</text>
<path d="M285.70,528.5v-1.7M285.70,420.5v1.7" stroke="#8c8c8c" stroke-width="0.7"/>
<text x="285.7" y="535.0" font-size="6.0" text-anchor="middle" font-weight="normal" fill="#505050" stroke="#505050" stroke-width="0.3" dominant-baseline="central">150</text>
<path d="M302.10,528.5v-1.7M302.10,420.5v1.7" stroke="#8c8c8c" stroke-width="0.7"/>
<text x="302.1" y="535.0" font-size="6.0" text-anchor="middle" font-weight="normal" fill="#505050" stroke="#505050" stroke-width="0.3" dominant-baseline="central">200</text>
<path d="M318.50,528.5v-1.7M318.50,420.5v1.7" stroke="#8c8c8c" stroke-width="0.7"/>
<text x="318.5" y="535.0" font-size="6.0" text-anchor="middle" font-weight="normal" fill="#505050" stroke="#505050" stroke-width="0.3" dominant-baseline="central">250</text>
<path d="M334.90,528.5v-1.7M334.90,420.5v1.7" stroke="#8c8c8c" stroke-width="0.7"/>
<text x="334.9" y="535.0" font-size="6.0" text-anchor="middle" font-weight="normal" fill="#505050" stroke="#505050" stroke-width="0.3" dominant-baseline="central">300</text>
<path d="M351.30,528.5v-1.7M351.30,420.5v1.7" stroke="#8c8c8c" stroke-width="0.7"/>
<text x="351.3" y="535.0" font-size="6.0" text-anchor="middle" font-weight="normal" fill="#505050" stroke="#505050" stroke-width="0.3" dominant-baseline="central">350</text>
<path d="M367.70,528.5v-1.7M367.70,420.5v1.7" stroke="#8c8c8c" stroke-width="0.7"/>
<text x="367.7" y="535.0" font-size="6.0" text-anchor="middle" font-weight="normal" fill="#505050" stroke="#505050" stroke-width="0.3" dominant-baseline="central">400</text>
<path d="M384.10,528.5v-1.7M384.10,420.5v1.7" stroke="#8c8c8c" stroke-width="0.7"/>
<text x="384.1" y="535.0" font-size="6.0" text-anchor="middle" font-weight="normal" fill="#505050" stroke="#505050" stroke-width="0.3" dominant-baseline="central">450</text>
<path d="M400.50,528.5v-1.7M400.50,420.5v1.7" stroke="#8c8c8c" stroke-width="0.7"/>
<text x="400.5" y="535.0" font-size="6.0" text-anchor="middle" font-weight="normal" fill="#505050" stroke="#505050" stroke-width="0.3" dominant-baseline="central">500</text>
<text x="318.5" y="416.0" font-size="6.4" text-anchor="middle" font-weight="bold" fill="#2a2a2a" stroke="#2a2a2a" stroke-width="0" dominant-baseline="central">F11</text>
<text x="319.8" y="543.1" font-size="7.3" text-anchor="middle" font-weight="normal" fill="#505050" stroke="#505050" stroke-width="0.3" dominant-baseline="central">Iteration</text>
<text x="0" y="0" font-size="6.3" text-anchor="middle" fill="#505050" stroke="#505050" stroke-width="0.3" dominant-baseline="central" transform="translate(216.9,474.8) rotate(-90)">Best score obtained so far</text>
<path d="M236.5,436.8h1.7M400.5,436.8h-1.7" stroke="#8c8c8c" stroke-width="0.7"/>
<text x="232.2" y="437.9" font-size="5.9" text-anchor="end" font-weight="normal" fill="#505050" stroke="#505050" stroke-width="0.3" dominant-baseline="central">10</text>
<text x="234.9" y="436.0" font-size="4.5" text-anchor="end" font-weight="normal" fill="#505050" stroke="#505050" stroke-width="0.3" dominant-baseline="central">0</text>
<path d="M236.5,465.5h1.7M400.5,465.5h-1.7" stroke="#8c8c8c" stroke-width="0.7"/>
<text x="230.7" y="466.6" font-size="5.9" text-anchor="end" font-weight="normal" fill="#505050" stroke="#505050" stroke-width="0.3" dominant-baseline="central">10</text>
<text x="234.9" y="464.7" font-size="4.5" text-anchor="end" font-weight="normal" fill="#505050" stroke="#505050" stroke-width="0.3" dominant-baseline="central">-5</text>
<path d="M236.5,494.7h1.7M400.5,494.7h-1.7" stroke="#8c8c8c" stroke-width="0.7"/>
<text x="228.2" y="495.8" font-size="5.9" text-anchor="end" font-weight="normal" fill="#505050" stroke="#505050" stroke-width="0.3" dominant-baseline="central">10</text>
<text x="234.9" y="493.9" font-size="4.5" text-anchor="end" font-weight="normal" fill="#505050" stroke="#505050" stroke-width="0.3" dominant-baseline="central">-10</text>
<path d="M236.5,523.9h1.7M400.5,523.9h-1.7" stroke="#8c8c8c" stroke-width="0.7"/>
<text x="228.2" y="525.0" font-size="5.9" text-anchor="end" font-weight="normal" fill="#505050" stroke="#505050" stroke-width="0.3" dominant-baseline="central">10</text>
<text x="234.9" y="523.1" font-size="4.5" text-anchor="end" font-weight="normal" fill="#505050" stroke="#505050" stroke-width="0.3" dominant-baseline="central">-15</text>
<path d="M236.5,424.60h1.2M400.5,424.60h-1.2" stroke="#8c8c8c" stroke-width="0.7"/>
<path d="M236.5,430.44h1.2M400.5,430.44h-1.2" stroke="#8c8c8c" stroke-width="0.7"/>
<path d="M236.5,436.28h1.2M400.5,436.28h-1.2" stroke="#8c8c8c" stroke-width="0.7"/>
<path d="M236.5,442.12h1.2M400.5,442.12h-1.2" stroke="#8c8c8c" stroke-width="0.7"/>
<path d="M236.5,447.96h1.2M400.5,447.96h-1.2" stroke="#8c8c8c" stroke-width="0.7"/>
<path d="M236.5,453.80h1.2M400.5,453.80h-1.2" stroke="#8c8c8c" stroke-width="0.7"/>
<path d="M236.5,459.64h1.2M400.5,459.64h-1.2" stroke="#8c8c8c" stroke-width="0.7"/>
<path d="M236.5,465.48h1.2M400.5,465.48h-1.2" stroke="#8c8c8c" stroke-width="0.7"/>
<path d="M236.5,471.32h1.2M400.5,471.32h-1.2" stroke="#8c8c8c" stroke-width="0.7"/>
<path d="M236.5,477.16h1.2M400.5,477.16h-1.2" stroke="#8c8c8c" stroke-width="0.7"/>
<path d="M236.5,483.00h1.2M400.5,483.00h-1.2" stroke="#8c8c8c" stroke-width="0.7"/>
<path d="M236.5,488.84h1.2M400.5,488.84h-1.2" stroke="#8c8c8c" stroke-width="0.7"/>
<path d="M236.5,494.68h1.2M400.5,494.68h-1.2" stroke="#8c8c8c" stroke-width="0.7"/>
<path d="M236.5,500.52h1.2M400.5,500.52h-1.2" stroke="#8c8c8c" stroke-width="0.7"/>
<path d="M236.5,506.36h1.2M400.5,506.36h-1.2" stroke="#8c8c8c" stroke-width="0.7"/>
<path d="M236.5,512.20h1.2M400.5,512.20h-1.2" stroke="#8c8c8c" stroke-width="0.7"/>
<path d="M236.5,518.04h1.2M400.5,518.04h-1.2" stroke="#8c8c8c" stroke-width="0.7"/>
<path d="M236.5,523.88h1.2M400.5,523.88h-1.2" stroke="#8c8c8c" stroke-width="0.7"/>
<g clip-path="url(#cF11)">
<path d="M236.5,454.1 L236.5,528.5" fill="none" stroke="#ff1a1a" stroke-width="1.4"/>
<path d="M237.2,435.8 L242.2,525.8" fill="none" stroke="#1a1aff" stroke-width="1.4" stroke-dasharray="3.5 3.25"/>
<path d="M237.0,428.0 L237.0,437.5 L276.1,437.5 L276.1,454.1" fill="none" stroke="#22ee22" stroke-width="1.4" stroke-dasharray="3.5 3.25"/>
<path d="M237.0,422.5 L240.8,422.1 L249.0,422.1 L251.7,424.2 L254.4,428.2 L257.8,431.6 L262.5,433.7 L270.7,437.1 L297.7,437.8 L306.4,440.0 L315.1,442.9 L321.0,445.9 L346.0,446.6 L354.0,446.5 L357.0,448.1 L373.6,449.1 L376.6,451.4 L387.1,453.6 L394.7,455.9 L400.4,459.6" fill="none" stroke="#1c1c1c" stroke-width="1.4" stroke-dasharray="3.5 3.25"/>
<path d="M237.0,428.0 L246.0,517.0" fill="none" stroke="#ff22ff" stroke-width="1.4" stroke-dasharray="3.5 3.25"/>
<path d="M237.0,426.2 L290.0,426.2 L297.7,426.9 L310.8,430.6 L321.0,434.2 L328.2,437.1 L348.0,437.8 L357.0,441.6 L367.6,445.3 L373.6,446.5 L400.4,446.5" fill="none" stroke="#22eeff" stroke-width="1.4" stroke-dasharray="3.5 3.25"/>
<path d="M237.0,422.1 L250.3,422.1 L280.2,422.8 L290.0,427.6 L300.6,427.6 L309.3,429.8 L321.0,432.0 L329.7,434.9 L346.0,436.4 L400.4,436.6" fill="none" stroke="#ffee00" stroke-width="1.4" stroke-dasharray="3.5 3.25"/>
<path d="M236.5,421.0 L239.4,426.2 L246.2,435.0 L250.5,437.5 L253.4,440.0 L259.8,451.1 L267.2,467.7 L274.6,480.6 L282.0,495.4 L289.4,506.4 L296.7,519.3 L301.5,528.5" fill="none" stroke="#a83a3a" stroke-width="1.4" stroke-dasharray="3.5 3.25"/>
</g>
<rect x="323.6" y="493.5" width="71.4" height="29.4" fill="#fff" stroke="#999" stroke-width="0.7"/>
<path d="M325.6,497.8h16.3" stroke="#ff1a1a" stroke-width="1.3"/>
<text x="343.6" y="497.8" font-size="5.3" text-anchor="start" font-weight="normal" fill="#2a2a2a" stroke="#2a2a2a" stroke-width="0.3" dominant-baseline="central">MROA</text>
<path d="M325.6,504.7h16.3" stroke="#1a1aff" stroke-width="1.3" stroke-dasharray="3.4 3.05"/>
<text x="343.6" y="504.7" font-size="5.3" text-anchor="start" font-weight="normal" fill="#2a2a2a" stroke="#2a2a2a" stroke-width="0.3" dominant-baseline="central">ROA</text>
<path d="M325.6,511.6h16.3" stroke="#22ee22" stroke-width="1.3" stroke-dasharray="3.4 3.05"/>
<text x="343.6" y="511.6" font-size="5.3" text-anchor="start" font-weight="normal" fill="#2a2a2a" stroke="#2a2a2a" stroke-width="0.3" dominant-baseline="central">RSA</text>
<path d="M325.6,518.5h16.3" stroke="#1c1c1c" stroke-width="1.3" stroke-dasharray="3.4 3.05"/>
<text x="343.6" y="518.5" font-size="5.3" text-anchor="start" font-weight="normal" fill="#2a2a2a" stroke="#2a2a2a" stroke-width="0.3" dominant-baseline="central">AOA</text>
<path d="M363.0,497.8h16.3" stroke="#ff22ff" stroke-width="1.3" stroke-dasharray="3.4 3.05"/>
<text x="381.0" y="497.8" font-size="5.3" text-anchor="start" font-weight="normal" fill="#2a2a2a" stroke="#2a2a2a" stroke-width="0.3" dominant-baseline="central">AO</text>
<path d="M363.0,504.7h16.3" stroke="#22eeff" stroke-width="1.3" stroke-dasharray="3.4 3.05"/>
<text x="381.0" y="504.7" font-size="5.3" text-anchor="start" font-weight="normal" fill="#2a2a2a" stroke="#2a2a2a" stroke-width="0.3" dominant-baseline="central">SSA</text>
<path d="M363.0,511.6h16.3" stroke="#ffee00" stroke-width="1.3" stroke-dasharray="3.4 3.05"/>
<text x="381.0" y="511.6" font-size="5.3" text-anchor="start" font-weight="normal" fill="#2a2a2a" stroke="#2a2a2a" stroke-width="0.3" dominant-baseline="central">SCA</text>
<path d="M363.0,518.5h16.3" stroke="#a83a3a" stroke-width="1.3" stroke-dasharray="3.4 3.05"/>
<text x="381.0" y="518.5" font-size="5.3" text-anchor="start" font-weight="normal" fill="#2a2a2a" stroke="#2a2a2a" stroke-width="0.3" dominant-baseline="central">GWO</text>
</svg>
</body></html>
